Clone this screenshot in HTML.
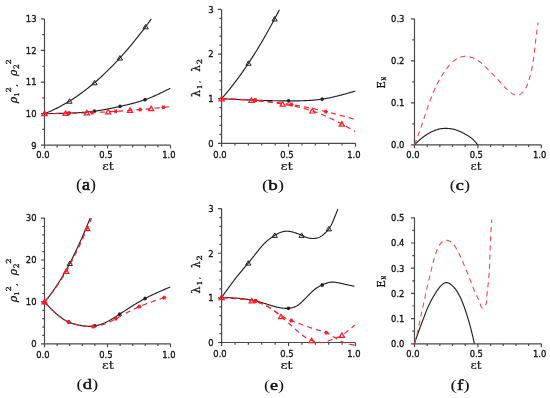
<!DOCTYPE html>
<html><head><meta charset="utf-8"><style>
html,body{margin:0;padding:0;background:#fff;}
svg{display:block;}
text{fill:#111;}
</style></head><body>
<svg width="550" height="398" viewBox="0 0 550 398">
<rect width="550" height="398" fill="#fff"/>
<path stroke="#4a4a4a" stroke-width="1.2" fill="none" d="M44.5,18.9L44.5,145.2L170.5,145.2"/>
<path stroke="#4a4a4a" stroke-width="1.2" fill="none" d="M40.9,145.2H44.5M42.3,129.41H44.5M40.9,113.62H44.5M42.3,97.84H44.5M40.9,82.05H44.5M42.3,66.26H44.5M40.9,50.47H44.5M42.3,34.69H44.5M40.9,18.9H44.5M44.5,145.2V148.6M57.1,145.2V147.4M69.7,145.2V147.4M82.3,145.2V147.4M94.9,145.2V147.4M107.5,145.2V148.6M120.1,145.2V147.4M132.7,145.2V147.4M145.3,145.2V147.4M157.9,145.2V147.4M170.5,145.2V148.6"/>
<path stroke="#222" stroke-width="1.15" fill="none" d="M44.5,113.62 L46.28,112.93 L48.06,112.2 L49.84,111.45 L51.62,110.66 L53.4,109.85 L55.18,109 L56.97,108.13 L58.75,107.22 L60.53,106.29 L62.31,105.32 L64.09,104.33 L65.87,103.3 L67.65,102.25 L69.43,101.16 L71.21,100.05 L72.99,98.9 L74.77,97.73 L76.55,96.52 L78.34,95.29 L80.12,94.02 L81.9,92.73 L83.68,91.4 L85.46,90.05 L87.24,88.66 L89.02,87.25 L90.8,85.8 L92.58,84.33 L94.36,82.83 L96.14,81.29 L97.92,79.73 L99.7,78.13 L101.49,76.51 L103.27,74.85 L105.05,73.17 L106.83,71.46 L108.61,69.71 L110.39,67.94 L112.17,66.13 L113.95,64.3 L115.73,62.44 L117.51,60.54 L119.29,58.62 L121.07,56.66 L122.86,54.68 L124.64,52.67 L126.42,50.62 L128.2,48.55 L129.98,46.45 L131.76,44.31 L133.54,42.15 L135.32,39.96 L137.1,37.73 L138.88,35.48 L140.66,33.2 L142.44,30.88 L144.22,28.54 L146.01,26.17 L147.79,23.76 L149.57,21.33 L151.35,18.87"/>
<path d="M69.5,98.72L72.1,103.22L66.9,103.22Z" stroke="#222" stroke-width="1.0" fill="none"/>
<path d="M94.5,80.31L97.1,84.81L91.9,84.81Z" stroke="#222" stroke-width="1.0" fill="none"/>
<path d="M119.9,55.55L122.5,60.05L117.3,60.05Z" stroke="#222" stroke-width="1.0" fill="none"/>
<path d="M145.6,24.31L148.2,28.81L143,28.81Z" stroke="#222" stroke-width="1.0" fill="none"/>
<path stroke="#222" stroke-width="1.15" fill="none" d="M44.5,113.6 L45.17,113.59 L45.84,113.58 L46.51,113.57 L47.19,113.57 L47.86,113.56 L48.53,113.55 L49.2,113.54 L49.87,113.53 L50.54,113.52 L51.22,113.51 L51.89,113.5 L52.56,113.49 L53.23,113.48 L53.9,113.47 L54.57,113.46 L55.24,113.45 L55.92,113.44 L56.59,113.43 L57.26,113.41 L57.93,113.4 L58.6,113.39 L59.27,113.37 L59.95,113.36 L60.62,113.35 L61.29,113.33 L61.96,113.31 L62.63,113.3 L63.3,113.28 L63.98,113.26 L64.65,113.25 L65.32,113.23 L65.99,113.21 L66.66,113.19 L67.34,113.17 L68.01,113.14 L68.68,113.12 L69.35,113.1 L70.02,113.07 L70.7,113.05 L71.37,113.02 L72.04,113 L72.71,112.97 L73.38,112.94 L74.06,112.91 L74.73,112.88 L75.4,112.84 L76.07,112.81 L76.74,112.78 L77.41,112.74 L78.09,112.7 L78.76,112.66 L79.43,112.62 L80.1,112.58 L80.77,112.53 L81.44,112.49 L82.11,112.44 L82.78,112.39 L83.45,112.34 L84.12,112.29 L84.79,112.23 L85.46,112.18 L86.13,112.12 L86.8,112.06 L87.47,112 L88.14,111.93 L88.81,111.87 L89.47,111.8 L90.14,111.72 L90.81,111.65 L91.48,111.58 L92.14,111.5 L92.81,111.42 L93.47,111.33 L94.14,111.25 L94.8,111.16 L95.47,111.07 L96.13,110.97 L96.8,110.88 L97.46,110.78 L98.13,110.68 L98.79,110.58 L99.45,110.47 L100.11,110.36 L100.78,110.25 L101.44,110.14 L102.1,110.03 L102.76,109.91 L103.42,109.8 L104.08,109.68 L104.74,109.56 L105.4,109.43 L106.06,109.31 L106.72,109.18 L107.38,109.06 L108.04,108.93 L108.7,108.8 L109.36,108.67 L110.02,108.53 L110.68,108.4 L111.34,108.26 L112,108.13 L112.65,107.99 L113.31,107.85 L113.97,107.71 L114.63,107.57 L115.29,107.43 L115.94,107.29 L116.6,107.15 L117.26,107 L117.92,106.86 L118.58,106.71 L119.23,106.57 L119.89,106.42 L120.55,106.28 L121.21,106.13 L121.86,105.99 L122.52,105.84 L123.18,105.69 L123.84,105.54 L124.49,105.39 L125.15,105.24 L125.81,105.09 L126.46,104.94 L127.12,104.79 L127.77,104.63 L128.43,104.47 L129.08,104.32 L129.74,104.16 L130.39,104 L131.04,103.83 L131.7,103.67 L132.35,103.5 L133,103.33 L133.65,103.16 L134.3,102.99 L134.95,102.81 L135.6,102.64 L136.24,102.46 L136.89,102.27 L137.53,102.09 L138.18,101.9 L138.82,101.71 L139.46,101.52 L140.11,101.32 L140.75,101.12 L141.38,100.92 L142.02,100.71 L142.66,100.5 L143.29,100.29 L143.93,100.07 L144.56,99.85 L145.19,99.63 L145.82,99.4 L146.45,99.17 L147.08,98.94 L147.71,98.7 L148.33,98.46 L148.96,98.21 L149.58,97.97 L150.2,97.72 L150.82,97.46 L151.44,97.21 L152.06,96.95 L152.68,96.68 L153.29,96.42 L153.91,96.15 L154.52,95.88 L155.14,95.61 L155.75,95.33 L156.36,95.06 L156.97,94.78 L157.58,94.5 L158.19,94.22 L158.8,93.93 L159.41,93.64 L160.02,93.36 L160.63,93.07 L161.24,92.78 L161.84,92.48 L162.45,92.19 L163.05,91.9 L163.66,91.6 L164.26,91.3 L164.87,91.01 L165.47,90.71 L166.08,90.41 L166.68,90.11 L167.28,89.81 L167.89,89.51 L168.49,89.21 L169.09,88.9 L169.7,88.6 L170.3,88.3"/>
<path d="M67.5,113.1L71.1,113.1M68.4,111.54L70.2,114.66M70.2,111.54L68.4,114.66" stroke="#222" stroke-width="1.4" fill="none"/>
<path d="M92.7,111.2L96.3,111.2M93.6,109.64L95.4,112.76M95.4,109.64L93.6,112.76" stroke="#222" stroke-width="1.4" fill="none"/>
<path d="M118.2,106.4L121.8,106.4M119.1,104.84L120.9,107.96M120.9,104.84L119.1,107.96" stroke="#222" stroke-width="1.4" fill="none"/>
<path d="M143.2,99.7L146.8,99.7M144.1,98.14L145.9,101.26M145.9,98.14L144.1,101.26" stroke="#222" stroke-width="1.4" fill="none"/>
<path stroke="#ff1a26" stroke-width="1.15" fill="none" stroke-dasharray="5.2 4" d="M44.5,113.6 L47.65,113.6 L50.8,113.58 L53.95,113.56 L57.1,113.53 L60.25,113.49 L63.4,113.44 L66.55,113.39 L69.7,113.32 L72.85,113.25 L76,113.16 L79.15,113.07 L82.3,112.97 L85.45,112.86 L88.6,112.74 L91.75,112.62 L94.9,112.48 L98.05,112.34 L101.2,112.18 L104.35,112.02 L107.5,111.85 L110.65,111.67 L113.8,111.48 L116.95,111.29 L120.1,111.08 L123.25,110.87 L126.4,110.64 L129.55,110.41 L132.7,110.17 L135.85,109.92 L139,109.66 L142.15,109.4 L145.3,109.12 L148.45,108.84 L151.6,108.54 L154.75,108.24 L157.9,107.93 L161.05,107.61 L164.2,107.28 L167.35,106.95 L170.5,106.6"/>
<path d="M44.5,111.1L47.1,115.6L41.9,115.6Z" stroke="#ff1a26" stroke-width="1.2" fill="none"/>
<path d="M65.6,110.9L68.2,115.4L63,115.4Z" stroke="#ff1a26" stroke-width="1.2" fill="none"/>
<path d="M86.9,110.31L89.5,114.81L84.3,114.81Z" stroke="#ff1a26" stroke-width="1.2" fill="none"/>
<path d="M108.1,109.32L110.7,113.82L105.5,113.82Z" stroke="#ff1a26" stroke-width="1.2" fill="none"/>
<path d="M130,107.88L132.6,112.38L127.4,112.38Z" stroke="#ff1a26" stroke-width="1.2" fill="none"/>
<path d="M151.1,106.09L153.7,110.59L148.5,110.59Z" stroke="#ff1a26" stroke-width="1.2" fill="none"/>
<path d="M66.5,113.34L70.7,113.34M67.55,111.52L69.65,115.16M69.65,111.52L67.55,115.16" stroke="#ff1a26" stroke-width="1.25" fill="none"/>
<path d="M90.1,112.6L94.3,112.6M91.15,110.78L93.25,114.41M93.25,110.78L91.15,114.41" stroke="#ff1a26" stroke-width="1.25" fill="none"/>
<path d="M113.6,111.36L117.8,111.36M114.65,109.55L116.75,113.18M116.75,109.55L114.65,113.18" stroke="#ff1a26" stroke-width="1.25" fill="none"/>
<path d="M138.1,109.56L142.3,109.56M139.15,107.74L141.25,111.38M141.25,107.74L139.15,111.38" stroke="#ff1a26" stroke-width="1.25" fill="none"/>
<path d="M161.3,107.37L165.5,107.37M162.35,105.55L164.45,109.18M164.45,105.55L162.35,109.18" stroke="#ff1a26" stroke-width="1.25" fill="none"/>
<path stroke="#4a4a4a" stroke-width="1.2" fill="none" d="M221.6,9.4L221.6,143.3L355.5,143.3"/>
<path stroke="#4a4a4a" stroke-width="1.2" fill="none" d="M218,143.3H221.6M219.4,134.37H221.6M219.4,125.45H221.6M219.4,116.52H221.6M219.4,107.59H221.6M218,98.67H221.6M219.4,89.74H221.6M219.4,80.81H221.6M219.4,71.89H221.6M219.4,62.96H221.6M218,54.03H221.6M219.4,45.11H221.6M219.4,36.18H221.6M219.4,27.25H221.6M219.4,18.33H221.6M218,9.4H221.6M221.6,143.3V146.7M234.99,143.3V145.5M248.38,143.3V145.5M261.77,143.3V145.5M275.16,143.3V145.5M288.55,143.3V146.7M301.94,143.3V145.5M315.33,143.3V145.5M328.72,143.3V145.5M342.11,143.3V145.5M355.5,143.3V146.7"/>
<path stroke="#222" stroke-width="1.15" fill="none" d="M221.6,98.67 L222.56,97.58 L223.53,96.47 L224.49,95.35 L225.46,94.22 L226.42,93.08 L227.38,91.92 L228.35,90.75 L229.31,89.56 L230.28,88.37 L231.24,87.16 L232.2,85.93 L233.17,84.69 L234.13,83.44 L235.1,82.18 L236.06,80.9 L237.03,79.61 L237.99,78.31 L238.95,76.99 L239.92,75.66 L240.88,74.31 L241.85,72.96 L242.81,71.59 L243.77,70.2 L244.74,68.8 L245.7,67.39 L246.67,65.97 L247.63,64.53 L248.59,63.08 L249.56,61.62 L250.52,60.14 L251.49,58.65 L252.45,57.15 L253.41,55.63 L254.38,54.1 L255.34,52.56 L256.31,51 L257.27,49.43 L258.24,47.85 L259.2,46.25 L260.16,44.64 L261.13,43.02 L262.09,41.38 L263.06,39.73 L264.02,38.07 L264.98,36.39 L265.95,34.7 L266.91,33 L267.88,31.28 L268.84,29.55 L269.8,27.81 L270.77,26.05 L271.73,24.28 L272.7,22.5 L273.66,20.7 L274.62,18.89 L275.59,17.07 L276.55,15.23 L277.52,13.38 L278.48,11.52 L279.44,9.64"/>
<path d="M248.5,60.82L251.1,65.32L245.9,65.32Z" stroke="#222" stroke-width="1.0" fill="none"/>
<path d="M274.6,16.54L277.2,21.04L272,21.04Z" stroke="#222" stroke-width="1.0" fill="none"/>
<path stroke="#222" stroke-width="1.15" fill="none" d="M221.6,98.7 L222.27,98.73 L222.94,98.77 L223.61,98.8 L224.28,98.83 L224.95,98.86 L225.62,98.9 L226.29,98.93 L226.96,98.96 L227.63,98.99 L228.3,99.03 L228.97,99.06 L229.64,99.09 L230.31,99.12 L230.98,99.16 L231.65,99.19 L232.32,99.22 L232.99,99.25 L233.66,99.28 L234.33,99.31 L235,99.35 L235.67,99.38 L236.34,99.41 L237.01,99.44 L237.67,99.47 L238.34,99.5 L239.01,99.53 L239.68,99.56 L240.35,99.59 L241.02,99.62 L241.69,99.65 L242.36,99.68 L243.03,99.71 L243.7,99.74 L244.37,99.77 L245.04,99.8 L245.71,99.83 L246.38,99.85 L247.05,99.88 L247.72,99.91 L248.39,99.94 L249.06,99.96 L249.73,99.99 L250.4,100.02 L251.07,100.04 L251.74,100.07 L252.41,100.1 L253.08,100.12 L253.75,100.15 L254.42,100.17 L255.08,100.2 L255.75,100.22 L256.42,100.24 L257.09,100.27 L257.76,100.29 L258.43,100.31 L259.1,100.34 L259.77,100.36 L260.44,100.38 L261.11,100.4 L261.78,100.42 L262.45,100.44 L263.12,100.46 L263.79,100.48 L264.46,100.5 L265.13,100.52 L265.8,100.54 L266.47,100.56 L267.14,100.57 L267.8,100.59 L268.47,100.61 L269.14,100.62 L269.81,100.64 L270.48,100.66 L271.15,100.67 L271.82,100.69 L272.49,100.7 L273.16,100.71 L273.83,100.73 L274.5,100.74 L275.17,100.75 L275.84,100.76 L276.51,100.78 L277.18,100.79 L277.86,100.8 L278.53,100.81 L279.2,100.82 L279.87,100.83 L280.54,100.84 L281.21,100.84 L281.88,100.85 L282.55,100.86 L283.22,100.86 L283.89,100.87 L284.56,100.88 L285.24,100.88 L285.91,100.89 L286.58,100.89 L287.25,100.89 L287.92,100.9 L288.6,100.9 L289.27,100.9 L289.94,100.9 L290.61,100.9 L291.28,100.9 L291.96,100.9 L292.63,100.9 L293.3,100.9 L293.97,100.9 L294.65,100.89 L295.32,100.89 L295.99,100.88 L296.66,100.87 L297.34,100.86 L298.01,100.85 L298.68,100.84 L299.35,100.83 L300.03,100.81 L300.7,100.8 L301.37,100.78 L302.04,100.76 L302.71,100.74 L303.39,100.72 L304.06,100.69 L304.73,100.66 L305.4,100.64 L306.07,100.61 L306.74,100.57 L307.41,100.54 L308.08,100.5 L308.75,100.46 L309.42,100.42 L310.09,100.38 L310.76,100.33 L311.43,100.28 L312.09,100.23 L312.76,100.18 L313.43,100.12 L314.1,100.06 L314.76,100 L315.43,99.93 L316.1,99.87 L316.76,99.8 L317.43,99.72 L318.09,99.65 L318.75,99.57 L319.42,99.48 L320.08,99.4 L320.74,99.31 L321.41,99.22 L322.07,99.12 L322.73,99.02 L323.39,98.92 L324.05,98.81 L324.71,98.7 L325.37,98.59 L326.02,98.47 L326.68,98.35 L327.34,98.23 L328,98.11 L328.65,97.98 L329.31,97.85 L329.96,97.71 L330.62,97.58 L331.27,97.44 L331.93,97.3 L332.58,97.15 L333.23,97.01 L333.89,96.86 L334.54,96.71 L335.19,96.56 L335.84,96.4 L336.5,96.24 L337.15,96.08 L337.8,95.92 L338.45,95.76 L339.1,95.6 L339.75,95.43 L340.4,95.26 L341.05,95.09 L341.7,94.92 L342.35,94.75 L343,94.57 L343.65,94.4 L344.29,94.22 L344.94,94.04 L345.59,93.87 L346.24,93.69 L346.89,93.51 L347.53,93.32 L348.18,93.14 L348.83,92.96 L349.48,92.77 L350.12,92.59 L350.77,92.4 L351.42,92.22 L352.07,92.03 L352.71,91.85 L353.36,91.66 L354.01,91.47 L354.65,91.29 L355.3,91.1"/>
<path d="M253.4,100.2L257,100.2M254.3,98.64L256.1,101.76M256.1,98.64L254.3,101.76" stroke="#222" stroke-width="1.4" fill="none"/>
<path d="M286.8,100.9L290.4,100.9M287.7,99.34L289.5,102.46M289.5,99.34L287.7,102.46" stroke="#222" stroke-width="1.4" fill="none"/>
<path d="M320.4,99.1L324,99.1M321.3,97.54L323.1,100.66M323.1,97.54L321.3,100.66" stroke="#222" stroke-width="1.4" fill="none"/>
<path stroke="#ff1a26" stroke-width="1.15" fill="none" stroke-dasharray="5.2 4" d="M221.6,98.7 L222.27,98.72 L222.94,98.75 L223.61,98.77 L224.29,98.79 L224.96,98.82 L225.63,98.84 L226.3,98.87 L226.97,98.89 L227.64,98.91 L228.32,98.94 L228.99,98.96 L229.66,98.99 L230.33,99.01 L231,99.04 L231.67,99.06 L232.34,99.09 L233.02,99.11 L233.69,99.14 L234.36,99.17 L235.03,99.2 L235.7,99.22 L236.37,99.25 L237.04,99.28 L237.72,99.31 L238.39,99.34 L239.06,99.37 L239.73,99.4 L240.4,99.43 L241.07,99.46 L241.74,99.49 L242.41,99.53 L243.08,99.56 L243.76,99.59 L244.43,99.63 L245.1,99.66 L245.77,99.7 L246.44,99.74 L247.11,99.77 L247.78,99.81 L248.45,99.85 L249.12,99.89 L249.79,99.93 L250.46,99.97 L251.13,100.02 L251.8,100.06 L252.48,100.1 L253.15,100.15 L253.82,100.19 L254.49,100.24 L255.16,100.29 L255.83,100.34 L256.5,100.39 L257.17,100.44 L257.84,100.49 L258.51,100.54 L259.18,100.6 L259.85,100.65 L260.52,100.71 L261.19,100.77 L261.86,100.83 L262.52,100.88 L263.19,100.95 L263.86,101.01 L264.53,101.07 L265.2,101.13 L265.87,101.2 L266.54,101.26 L267.21,101.33 L267.88,101.4 L268.55,101.47 L269.21,101.54 L269.88,101.61 L270.55,101.68 L271.22,101.75 L271.89,101.83 L272.56,101.9 L273.22,101.98 L273.89,102.06 L274.56,102.13 L275.23,102.21 L275.89,102.29 L276.56,102.38 L277.23,102.46 L277.89,102.54 L278.56,102.63 L279.23,102.72 L279.89,102.8 L280.56,102.89 L281.23,102.98 L281.89,103.07 L282.56,103.16 L283.22,103.26 L283.89,103.35 L284.55,103.45 L285.22,103.54 L285.88,103.64 L286.55,103.74 L287.21,103.84 L287.88,103.94 L288.54,104.05 L289.21,104.15 L289.87,104.25 L290.53,104.36 L291.2,104.47 L291.86,104.58 L292.52,104.69 L293.19,104.8 L293.85,104.91 L294.51,105.02 L295.17,105.14 L295.84,105.25 L296.5,105.37 L297.16,105.48 L297.82,105.6 L298.48,105.72 L299.14,105.84 L299.8,105.97 L300.46,106.09 L301.12,106.21 L301.78,106.34 L302.44,106.47 L303.1,106.59 L303.76,106.72 L304.42,106.85 L305.08,106.98 L305.74,107.11 L306.4,107.25 L307.06,107.38 L307.72,107.52 L308.38,107.65 L309.03,107.79 L309.69,107.93 L310.35,108.06 L311.01,108.2 L311.66,108.35 L312.32,108.49 L312.98,108.63 L313.63,108.77 L314.29,108.92 L314.95,109.06 L315.6,109.21 L316.26,109.36 L316.91,109.5 L317.57,109.65 L318.23,109.8 L318.88,109.95 L319.53,110.1 L320.19,110.26 L320.84,110.41 L321.5,110.56 L322.15,110.72 L322.81,110.88 L323.46,111.03 L324.11,111.19 L324.77,111.35 L325.42,111.51 L326.07,111.67 L326.72,111.83 L327.38,111.99 L328.03,112.15 L328.68,112.31 L329.33,112.48 L329.98,112.64 L330.63,112.81 L331.29,112.97 L331.94,113.14 L332.59,113.3 L333.24,113.47 L333.89,113.64 L334.54,113.81 L335.19,113.98 L335.84,114.15 L336.49,114.32 L337.14,114.49 L337.79,114.66 L338.44,114.83 L339.09,115 L339.74,115.18 L340.39,115.35 L341.04,115.52 L341.69,115.7 L342.33,115.87 L342.98,116.04 L343.63,116.22 L344.28,116.39 L344.93,116.57 L345.58,116.74 L346.23,116.92 L346.87,117.1 L347.52,117.27 L348.17,117.45 L348.82,117.63 L349.47,117.8 L350.12,117.98 L350.76,118.16 L351.41,118.33 L352.06,118.51 L352.71,118.69 L353.36,118.87 L354,119.04 L354.65,119.22 L355.3,119.4"/>
<path stroke="#ff1a26" stroke-width="1.15" fill="none" stroke-dasharray="5.2 4" d="M221.6,98.7 L222.27,98.73 L222.94,98.75 L223.61,98.78 L224.28,98.81 L224.95,98.84 L225.62,98.86 L226.29,98.89 L226.96,98.92 L227.63,98.95 L228.3,98.98 L228.97,99 L229.64,99.03 L230.31,99.06 L230.98,99.09 L231.65,99.12 L232.32,99.15 L232.99,99.18 L233.66,99.22 L234.33,99.25 L235,99.28 L235.67,99.31 L236.34,99.35 L237.01,99.38 L237.68,99.41 L238.35,99.45 L239.02,99.48 L239.69,99.52 L240.36,99.56 L241.03,99.6 L241.7,99.64 L242.37,99.67 L243.04,99.71 L243.71,99.76 L244.38,99.8 L245.04,99.84 L245.71,99.89 L246.38,99.93 L247.05,99.98 L247.72,100.02 L248.39,100.07 L249.06,100.12 L249.72,100.17 L250.39,100.22 L251.06,100.27 L251.73,100.33 L252.4,100.38 L253.06,100.44 L253.73,100.49 L254.4,100.55 L255.07,100.61 L255.73,100.67 L256.4,100.73 L257.07,100.8 L257.74,100.86 L258.4,100.93 L259.07,100.99 L259.74,101.06 L260.4,101.13 L261.07,101.2 L261.74,101.27 L262.4,101.34 L263.07,101.41 L263.74,101.49 L264.4,101.56 L265.07,101.64 L265.73,101.72 L266.4,101.8 L267.06,101.88 L267.73,101.96 L268.4,102.04 L269.06,102.13 L269.73,102.21 L270.39,102.3 L271.06,102.39 L271.72,102.47 L272.39,102.56 L273.05,102.65 L273.72,102.75 L274.38,102.84 L275.04,102.93 L275.71,103.03 L276.37,103.12 L277.04,103.22 L277.7,103.32 L278.37,103.42 L279.03,103.52 L279.69,103.62 L280.36,103.73 L281.02,103.83 L281.68,103.94 L282.35,104.04 L283.01,104.15 L283.67,104.26 L284.34,104.37 L285,104.48 L285.66,104.59 L286.32,104.71 L286.99,104.82 L287.65,104.94 L288.31,105.06 L288.97,105.18 L289.63,105.3 L290.29,105.42 L290.95,105.55 L291.61,105.67 L292.27,105.8 L292.93,105.93 L293.59,106.06 L294.25,106.2 L294.91,106.33 L295.57,106.47 L296.22,106.61 L296.88,106.75 L297.53,106.9 L298.19,107.05 L298.84,107.19 L299.5,107.35 L300.15,107.5 L300.8,107.66 L301.46,107.81 L302.11,107.97 L302.76,108.14 L303.41,108.3 L304.06,108.47 L304.7,108.65 L305.35,108.82 L306,109 L306.64,109.18 L307.29,109.36 L307.93,109.55 L308.57,109.74 L309.22,109.93 L309.86,110.12 L310.5,110.32 L311.14,110.52 L311.77,110.73 L312.41,110.94 L313.05,111.15 L313.68,111.36 L314.31,111.58 L314.95,111.8 L315.58,112.03 L316.21,112.25 L316.84,112.48 L317.46,112.72 L318.09,112.95 L318.72,113.19 L319.34,113.44 L319.97,113.68 L320.59,113.93 L321.21,114.18 L321.83,114.43 L322.45,114.69 L323.07,114.95 L323.69,115.21 L324.31,115.47 L324.92,115.74 L325.54,116.01 L326.15,116.28 L326.77,116.55 L327.38,116.83 L327.99,117.11 L328.6,117.39 L329.21,117.67 L329.82,117.95 L330.43,118.24 L331.04,118.53 L331.64,118.82 L332.25,119.11 L332.85,119.41 L333.46,119.7 L334.06,120 L334.66,120.3 L335.26,120.6 L335.86,120.9 L336.46,121.21 L337.06,121.51 L337.66,121.82 L338.25,122.13 L338.85,122.44 L339.45,122.75 L340.04,123.06 L340.63,123.38 L341.23,123.69 L341.82,124.01 L342.41,124.33 L343,124.65 L343.59,124.97 L344.18,125.29 L344.77,125.61 L345.36,125.93 L345.95,126.25 L346.53,126.58 L347.12,126.9 L347.71,127.23 L348.29,127.55 L348.88,127.88 L349.46,128.21 L350.05,128.54 L350.63,128.86 L351.22,129.19 L351.8,129.52 L352.38,129.85 L352.97,130.18 L353.55,130.51 L354.13,130.84 L354.72,131.17 L355.3,131.5"/>
<path d="M221.6,96.3L224.2,100.8L219,100.8Z" stroke="#ff1a26" stroke-width="1.2" fill="none"/>
<path d="M251.4,97.9L254,102.4L248.8,102.4Z" stroke="#ff1a26" stroke-width="1.2" fill="none"/>
<path d="M282.7,101.7L285.3,106.2L280.1,106.2Z" stroke="#ff1a26" stroke-width="1.2" fill="none"/>
<path d="M312.3,108.5L314.9,113L309.7,113Z" stroke="#ff1a26" stroke-width="1.2" fill="none"/>
<path d="M341.8,121.6L344.4,126.1L339.2,126.1Z" stroke="#ff1a26" stroke-width="1.2" fill="none"/>
<path d="M253.2,100.3L257.4,100.3M254.25,98.48L256.35,102.12M256.35,98.48L254.25,102.12" stroke="#ff1a26" stroke-width="1.25" fill="none"/>
<path d="M289.3,104.5L293.5,104.5M290.35,102.68L292.45,106.32M292.45,102.68L290.35,106.32" stroke="#ff1a26" stroke-width="1.25" fill="none"/>
<path d="M323.7,111.6L327.9,111.6M324.75,109.78L326.85,113.42M326.85,109.78L324.75,113.42" stroke="#ff1a26" stroke-width="1.25" fill="none"/>
<path stroke="#4a4a4a" stroke-width="1.2" fill="none" d="M414.5,18.8L414.5,144.8L541.3,144.8"/>
<path stroke="#4a4a4a" stroke-width="1.2" fill="none" d="M410.9,144.8H414.5M412.3,123.8H414.5M410.9,102.8H414.5M412.3,81.8H414.5M410.9,60.8H414.5M412.3,39.8H414.5M410.9,18.8H414.5M414.5,144.8V148.2M427.18,144.8V147M439.86,144.8V147M452.54,144.8V147M465.22,144.8V147M477.9,144.8V148.2M490.58,144.8V147M503.26,144.8V147M515.94,144.8V147M528.62,144.8V147M541.3,144.8V148.2"/>
<path stroke="#222" stroke-width="1.15" fill="none" d="M414.5,144.8 L414.99,144.33 L415.47,143.85 L415.96,143.38 L416.45,142.91 L416.94,142.44 L417.43,141.98 L417.93,141.51 L418.43,141.05 L418.93,140.59 L419.43,140.14 L419.94,139.69 L420.45,139.25 L420.96,138.81 L421.48,138.38 L422.01,137.95 L422.54,137.53 L423.08,137.12 L423.62,136.71 L424.17,136.31 L424.72,135.92 L425.28,135.54 L425.85,135.16 L426.41,134.79 L426.99,134.42 L427.57,134.07 L428.15,133.72 L428.74,133.38 L429.33,133.04 L429.92,132.72 L430.52,132.4 L431.13,132.09 L431.74,131.78 L432.35,131.49 L432.96,131.2 L433.58,130.92 L434.21,130.66 L434.84,130.4 L435.47,130.16 L436.11,129.94 L436.75,129.73 L437.4,129.53 L438.06,129.35 L438.71,129.18 L439.38,129.03 L440.04,128.9 L440.71,128.78 L441.38,128.68 L442.06,128.59 L442.73,128.52 L443.41,128.46 L444.09,128.42 L444.77,128.39 L445.46,128.38 L446.14,128.38 L446.82,128.39 L447.5,128.42 L448.18,128.46 L448.86,128.52 L449.54,128.58 L450.22,128.67 L450.89,128.76 L451.56,128.87 L452.23,128.99 L452.9,129.12 L453.56,129.27 L454.22,129.43 L454.88,129.61 L455.53,129.79 L456.18,129.99 L456.82,130.21 L457.45,130.43 L458.09,130.67 L458.72,130.92 L459.34,131.18 L459.96,131.45 L460.58,131.73 L461.19,132.02 L461.8,132.32 L462.41,132.62 L463.01,132.93 L463.61,133.25 L464.21,133.58 L464.8,133.91 L465.4,134.25 L465.99,134.59 L466.58,134.93 L467.17,135.28 L467.75,135.63 L468.34,135.98 L468.91,136.35 L469.48,136.72 L470.05,137.1 L470.6,137.49 L471.14,137.89 L471.67,138.3 L472.19,138.73 L472.7,139.18 L473.19,139.64 L473.67,140.11 L474.13,140.6 L474.59,141.1 L475.04,141.61 L475.48,142.13 L475.91,142.66 L476.34,143.19 L476.76,143.72 L477.18,144.26 L477.6,144.8"/>
<path stroke="#ff3a48" stroke-width="1.05" fill="none" stroke-dasharray="5.2 4" d="M414.5,144.8 L414.74,144.18 L414.99,143.55 L415.23,142.93 L415.48,142.31 L415.72,141.69 L415.96,141.06 L416.21,140.44 L416.45,139.81 L416.69,139.19 L416.93,138.56 L417.16,137.94 L417.4,137.31 L417.63,136.69 L417.87,136.06 L418.1,135.43 L418.33,134.8 L418.55,134.17 L418.78,133.54 L419,132.91 L419.23,132.28 L419.45,131.65 L419.67,131.02 L419.89,130.39 L420.11,129.76 L420.33,129.12 L420.55,128.49 L420.76,127.86 L420.98,127.23 L421.2,126.59 L421.42,125.96 L421.63,125.33 L421.85,124.7 L422.07,124.06 L422.29,123.43 L422.51,122.8 L422.72,122.16 L422.94,121.53 L423.16,120.9 L423.37,120.27 L423.59,119.63 L423.8,119 L424.01,118.36 L424.23,117.73 L424.44,117.09 L424.65,116.46 L424.86,115.82 L425.06,115.19 L425.27,114.55 L425.48,113.92 L425.68,113.28 L425.89,112.64 L426.1,112.01 L426.3,111.37 L426.51,110.73 L426.72,110.1 L426.93,109.46 L427.14,108.83 L427.35,108.19 L427.57,107.56 L427.78,106.93 L428,106.29 L428.22,105.66 L428.45,105.03 L428.68,104.4 L428.91,103.78 L429.14,103.15 L429.37,102.52 L429.61,101.89 L429.84,101.27 L430.08,100.64 L430.32,100.02 L430.56,99.4 L430.81,98.77 L431.05,98.15 L431.3,97.53 L431.54,96.9 L431.79,96.28 L432.03,95.66 L432.28,95.04 L432.53,94.42 L432.78,93.8 L433.03,93.18 L433.28,92.56 L433.54,91.94 L433.8,91.32 L434.06,90.7 L434.32,90.09 L434.58,89.47 L434.85,88.86 L435.12,88.25 L435.4,87.64 L435.68,87.03 L435.96,86.42 L436.25,85.82 L436.54,85.22 L436.83,84.61 L437.13,84.01 L437.43,83.42 L437.74,82.82 L438.05,82.23 L438.36,81.64 L438.68,81.05 L439,80.46 L439.33,79.88 L439.66,79.3 L439.99,78.72 L440.33,78.14 L440.68,77.57 L441.03,77 L441.38,76.43 L441.73,75.86 L442.09,75.3 L442.45,74.73 L442.82,74.17 L443.19,73.61 L443.56,73.06 L443.94,72.5 L444.31,71.95 L444.69,71.4 L445.08,70.85 L445.46,70.3 L445.85,69.76 L446.24,69.21 L446.64,68.67 L447.04,68.14 L447.44,67.6 L447.85,67.08 L448.27,66.55 L448.69,66.03 L449.12,65.52 L449.56,65.01 L450.01,64.51 L450.46,64.02 L450.92,63.53 L451.39,63.05 L451.87,62.58 L452.36,62.12 L452.86,61.67 L453.37,61.23 L453.89,60.81 L454.42,60.4 L454.96,60 L455.51,59.62 L456.08,59.25 L456.65,58.9 L457.24,58.57 L457.84,58.25 L458.45,57.96 L459.07,57.69 L459.7,57.43 L460.34,57.21 L460.99,57 L461.64,56.82 L462.3,56.66 L462.96,56.53 L463.62,56.43 L464.29,56.36 L464.96,56.31 L465.63,56.3 L466.3,56.31 L466.96,56.36 L467.63,56.43 L468.29,56.53 L468.96,56.65 L469.61,56.8 L470.27,56.97 L470.92,57.16 L471.56,57.38 L472.2,57.61 L472.84,57.86 L473.46,58.12 L474.08,58.4 L474.69,58.69 L475.3,59 L475.89,59.32 L476.48,59.65 L477.06,59.99 L477.63,60.35 L478.19,60.71 L478.75,61.09 L479.29,61.47 L479.83,61.87 L480.37,62.27 L480.9,62.69 L481.41,63.11 L481.93,63.54 L482.43,63.97 L482.93,64.42 L483.43,64.87 L483.91,65.33 L484.39,65.79 L484.87,66.26 L485.35,66.73 L485.82,67.21 L486.28,67.69 L486.75,68.17 L487.22,68.65 L487.68,69.13 L488.15,69.61 L488.61,70.09 L489.08,70.57 L489.55,71.05 L490.02,71.52 L490.5,72 L490.97,72.47 L491.45,72.94 L491.93,73.4 L492.41,73.87 L492.89,74.34 L493.36,74.81 L493.84,75.28 L494.31,75.75 L494.79,76.22 L495.25,76.7 L495.72,77.18 L496.18,77.67 L496.64,78.15 L497.09,78.65 L497.53,79.14 L497.98,79.64 L498.42,80.15 L498.86,80.65 L499.3,81.16 L499.73,81.66 L500.17,82.17 L500.61,82.68 L501.05,83.18 L501.49,83.68 L501.94,84.18 L502.38,84.68 L502.84,85.18 L503.29,85.67 L503.75,86.15 L504.22,86.63 L504.69,87.11 L505.16,87.58 L505.64,88.05 L506.12,88.52 L506.61,88.98 L507.1,89.44 L507.59,89.89 L508.09,90.33 L508.59,90.78 L509.1,91.21 L509.61,91.65 L510.12,92.07 L510.65,92.48 L511.18,92.88 L511.73,93.27 L512.29,93.63 L512.87,93.97 L513.48,94.29 L514.1,94.57 L514.74,94.82 L515.4,95.02 L516.06,95.15 L516.73,95.22 L517.39,95.21 L518.04,95.11 L518.69,94.93 L519.31,94.68 L519.92,94.37 L520.5,94 L521.06,93.61 L521.6,93.18 L522.1,92.73 L522.58,92.26 L523.03,91.77 L523.47,91.26 L523.89,90.74 L524.29,90.21 L524.68,89.67 L525.06,89.11 L525.42,88.55 L525.77,87.97 L526.1,87.39 L526.42,86.8 L526.72,86.2 L527,85.59 L527.27,84.98 L527.52,84.36 L527.75,83.74 L527.98,83.1 L528.19,82.47 L528.39,81.83 L528.59,81.19 L528.77,80.55 L528.96,79.9 L529.14,79.26 L529.32,78.61 L529.5,77.96 L529.68,77.32 L529.85,76.67 L530.03,76.02 L530.2,75.37 L530.37,74.73 L530.53,74.08 L530.7,73.43 L530.86,72.78 L531.02,72.13 L531.18,71.48 L531.33,70.83 L531.48,70.18 L531.63,69.52 L531.78,68.87 L531.92,68.22 L532.06,67.56 L532.2,66.91 L532.33,66.26 L532.46,65.6 L532.58,64.94 L532.7,64.29 L532.82,63.63 L532.93,62.97 L533.04,62.31 L533.15,61.65 L533.25,60.99 L533.35,60.33 L533.45,59.66 L533.54,59 L533.63,58.34 L533.72,57.68 L533.81,57.01 L533.89,56.35 L533.98,55.68 L534.06,55.02 L534.14,54.35 L534.22,53.69 L534.29,53.02 L534.37,52.36 L534.44,51.69 L534.52,51.03 L534.59,50.36 L534.67,49.7 L534.74,49.03 L534.81,48.37 L534.88,47.7 L534.96,47.04 L535.03,46.37 L535.1,45.71 L535.17,45.04 L535.25,44.38 L535.32,43.71 L535.4,43.05 L535.47,42.38 L535.55,41.72 L535.62,41.05 L535.7,40.39 L535.78,39.72 L535.86,39.06 L535.94,38.4 L536.02,37.73 L536.1,37.07 L536.19,36.41 L536.28,35.74 L536.36,35.08 L536.45,34.42 L536.54,33.75 L536.63,33.09 L536.73,32.43 L536.82,31.77 L536.91,31.1 L537.01,30.44 L537.11,29.78 L537.2,29.12 L537.3,28.46 L537.4,27.79 L537.5,27.13 L537.6,26.47 L537.7,25.81 L537.8,25.15 L537.9,24.48 L538,23.82 L538.1,23.16 L538.2,22.5"/>
<path stroke="#4a4a4a" stroke-width="1.2" fill="none" d="M44.5,218.1L44.5,343.8L170.5,343.8"/>
<path stroke="#4a4a4a" stroke-width="1.2" fill="none" d="M40.9,343.8H44.5M42.3,335.42H44.5M42.3,327.04H44.5M42.3,318.66H44.5M42.3,310.28H44.5M40.9,301.9H44.5M42.3,293.52H44.5M42.3,285.14H44.5M42.3,276.76H44.5M42.3,268.38H44.5M40.9,260H44.5M42.3,251.62H44.5M42.3,243.24H44.5M42.3,234.86H44.5M42.3,226.48H44.5M40.9,218.1H44.5M44.5,343.8V347.2M57.1,343.8V346M69.7,343.8V346M82.3,343.8V346M94.9,343.8V346M107.5,343.8V347.2M120.1,343.8V346M132.7,343.8V346M145.3,343.8V346M157.9,343.8V346M170.5,343.8V347.2"/>
<path stroke="#222" stroke-width="1.15" fill="none" d="M44.5,301.9 L45.26,301.02 L46.02,300.12 L46.78,299.2 L47.55,298.27 L48.31,297.32 L49.07,296.35 L49.83,295.36 L50.59,294.36 L51.35,293.33 L52.11,292.29 L52.87,291.24 L53.63,290.16 L54.4,289.07 L55.16,287.96 L55.92,286.84 L56.68,285.69 L57.44,284.53 L58.2,283.36 L58.96,282.16 L59.73,280.95 L60.49,279.72 L61.25,278.47 L62.01,277.2 L62.77,275.92 L63.53,274.62 L64.29,273.3 L65.05,271.96 L65.81,270.61 L66.58,269.24 L67.34,267.85 L68.1,266.45 L68.86,265.03 L69.62,263.59 L70.38,262.13 L71.14,260.65 L71.91,259.16 L72.67,257.65 L73.43,256.12 L74.19,254.58 L74.95,253.02 L75.71,251.44 L76.47,249.84 L77.23,248.23 L78,246.59 L78.76,244.95 L79.52,243.28 L80.28,241.59 L81.04,239.89 L81.8,238.17 L82.56,236.44 L83.32,234.68 L84.09,232.91 L84.85,231.12 L85.61,229.32 L86.37,227.49 L87.13,225.65 L87.89,223.8 L88.65,221.92 L89.41,220.03 L90.17,218.12"/>
<path d="M69.8,261.04L72.4,265.54L67.2,265.54Z" stroke="#222" stroke-width="1.0" fill="none"/>
<path stroke="#ff1a26" stroke-width="1.15" fill="none" stroke-dasharray="5.2 4" d="M44.5,301.9 L45.28,301.03 L46.07,300.14 L46.85,299.24 L47.64,298.31 L48.42,297.37 L49.21,296.41 L49.99,295.44 L50.77,294.44 L51.56,293.43 L52.34,292.4 L53.13,291.35 L53.91,290.29 L54.7,289.2 L55.48,288.1 L56.27,286.98 L57.05,285.84 L57.83,284.69 L58.62,283.51 L59.4,282.32 L60.19,281.11 L60.97,279.89 L61.76,278.64 L62.54,277.38 L63.32,276.1 L64.11,274.8 L64.89,273.48 L65.68,272.15 L66.46,270.8 L67.25,269.43 L68.03,268.04 L68.81,266.64 L69.6,265.21 L70.38,263.77 L71.17,262.31 L71.95,260.84 L72.74,259.34 L73.52,257.83 L74.31,256.3 L75.09,254.75 L75.87,253.18 L76.66,251.6 L77.44,250 L78.23,248.38 L79.01,246.74 L79.8,245.08 L80.58,243.41 L81.36,241.72 L82.15,240.01 L82.93,238.28 L83.72,236.54 L84.5,234.78 L85.29,233 L86.07,231.2 L86.85,229.38 L87.64,227.55 L88.42,225.69 L89.21,223.82 L89.99,221.94 L90.78,220.03 L91.56,218.11"/>
<path d="M44.5,299.5L47.1,304L41.9,304Z" stroke="#ff1a26" stroke-width="1.2" fill="none"/>
<path d="M66.2,268.85L68.8,273.35L63.6,273.35Z" stroke="#ff1a26" stroke-width="1.2" fill="none"/>
<path d="M87.2,226.17L89.8,230.67L84.6,230.67Z" stroke="#ff1a26" stroke-width="1.2" fill="none"/>
<path stroke="#222" stroke-width="1.15" fill="none" d="M44.5,302.1 L44.96,302.58 L45.43,303.07 L45.89,303.55 L46.36,304.03 L46.82,304.52 L47.29,305 L47.76,305.48 L48.22,305.96 L48.69,306.44 L49.17,306.92 L49.64,307.4 L50.11,307.88 L50.59,308.35 L51.07,308.83 L51.55,309.3 L52.03,309.77 L52.51,310.24 L53,310.71 L53.49,311.17 L53.98,311.64 L54.48,312.1 L54.98,312.56 L55.48,313.01 L55.99,313.47 L56.5,313.92 L57.01,314.36 L57.53,314.81 L58.05,315.24 L58.58,315.68 L59.11,316.1 L59.64,316.53 L60.18,316.94 L60.72,317.35 L61.26,317.75 L61.82,318.15 L62.37,318.53 L62.93,318.91 L63.49,319.28 L64.06,319.64 L64.64,319.99 L65.22,320.33 L65.8,320.66 L66.39,320.98 L66.98,321.29 L67.58,321.59 L68.19,321.87 L68.8,322.14 L69.42,322.4 L70.04,322.65 L70.66,322.89 L71.3,323.11 L71.93,323.33 L72.57,323.53 L73.22,323.73 L73.86,323.91 L74.51,324.09 L75.17,324.26 L75.82,324.42 L76.48,324.58 L77.14,324.72 L77.81,324.87 L78.47,325 L79.14,325.14 L79.81,325.26 L80.47,325.39 L81.14,325.51 L81.81,325.62 L82.48,325.73 L83.15,325.83 L83.82,325.93 L84.49,326.02 L85.16,326.09 L85.84,326.17 L86.51,326.23 L87.18,326.28 L87.85,326.32 L88.52,326.34 L89.19,326.36 L89.86,326.36 L90.53,326.35 L91.2,326.32 L91.87,326.28 L92.54,326.22 L93.21,326.15 L93.87,326.07 L94.54,325.97 L95.2,325.85 L95.86,325.72 L96.52,325.58 L97.18,325.43 L97.84,325.27 L98.49,325.09 L99.14,324.9 L99.79,324.7 L100.44,324.49 L101.08,324.27 L101.72,324.04 L102.36,323.8 L102.99,323.55 L103.62,323.3 L104.24,323.03 L104.87,322.76 L105.48,322.48 L106.09,322.19 L106.7,321.9 L107.31,321.6 L107.91,321.3 L108.51,320.98 L109.1,320.67 L109.69,320.34 L110.28,320.02 L110.86,319.68 L111.45,319.35 L112.03,319.01 L112.6,318.66 L113.18,318.31 L113.75,317.96 L114.32,317.61 L114.89,317.25 L115.46,316.89 L116.03,316.53 L116.6,316.16 L117.16,315.8 L117.73,315.43 L118.29,315.06 L118.85,314.69 L119.42,314.32 L119.98,313.95 L120.54,313.58 L121.11,313.21 L121.67,312.84 L122.23,312.47 L122.8,312.1 L123.36,311.73 L123.92,311.36 L124.49,310.99 L125.05,310.62 L125.62,310.26 L126.18,309.89 L126.75,309.52 L127.31,309.15 L127.88,308.79 L128.44,308.42 L129.01,308.06 L129.58,307.7 L130.15,307.33 L130.71,306.97 L131.28,306.61 L131.85,306.25 L132.42,305.89 L132.99,305.54 L133.57,305.18 L134.14,304.83 L134.71,304.48 L135.29,304.12 L135.86,303.78 L136.44,303.43 L137.01,303.08 L137.59,302.74 L138.17,302.39 L138.75,302.05 L139.33,301.71 L139.91,301.38 L140.49,301.04 L141.08,300.71 L141.66,300.38 L142.25,300.05 L142.84,299.73 L143.43,299.4 L144.02,299.08 L144.61,298.76 L145.2,298.45 L145.79,298.13 L146.39,297.82 L146.99,297.51 L147.58,297.21 L148.18,296.9 L148.78,296.6 L149.39,296.3 L149.99,296.01 L150.59,295.71 L151.2,295.42 L151.8,295.13 L152.41,294.84 L153.02,294.55 L153.63,294.27 L154.24,293.98 L154.85,293.7 L155.46,293.42 L156.07,293.14 L156.68,292.86 L157.3,292.59 L157.91,292.31 L158.53,292.04 L159.14,291.77 L159.76,291.5 L160.38,291.23 L161,290.96 L161.61,290.69 L162.23,290.42 L162.85,290.16 L163.47,289.89 L164.09,289.62 L164.71,289.36 L165.33,289.1 L165.95,288.83 L166.57,288.57 L167.19,288.31 L167.81,288.05 L168.44,287.78 L169.06,287.52 L169.68,287.26 L170.3,287"/>
<path d="M66.9,322.1L70.5,322.1M67.8,320.54L69.6,323.66M69.6,320.54L67.8,323.66" stroke="#222" stroke-width="1.4" fill="none"/>
<path d="M93,325.92L96.6,325.92M93.9,324.36L95.7,327.48M95.7,324.36L93.9,327.48" stroke="#222" stroke-width="1.4" fill="none"/>
<path d="M117.8,314.2L121.4,314.2M118.7,312.64L120.5,315.76M120.5,312.64L118.7,315.76" stroke="#222" stroke-width="1.4" fill="none"/>
<path d="M143.3,298.5L146.9,298.5M144.2,296.94L146,300.06M146,296.94L144.2,300.06" stroke="#222" stroke-width="1.4" fill="none"/>
<path stroke="#ff1a26" stroke-width="1.15" fill="none" stroke-dasharray="5.2 4" d="M44.5,302.1 L44.96,302.58 L45.42,303.07 L45.89,303.55 L46.35,304.03 L46.82,304.51 L47.28,304.99 L47.75,305.48 L48.21,305.96 L48.68,306.43 L49.15,306.91 L49.62,307.39 L50.09,307.86 L50.57,308.34 L51.04,308.81 L51.52,309.28 L52,309.75 L52.49,310.22 L52.97,310.68 L53.46,311.15 L53.95,311.61 L54.45,312.07 L54.95,312.53 L55.45,312.98 L55.95,313.43 L56.46,313.88 L56.97,314.32 L57.49,314.76 L58.01,315.2 L58.53,315.63 L59.06,316.05 L59.59,316.47 L60.13,316.88 L60.67,317.29 L61.21,317.69 L61.76,318.08 L62.31,318.47 L62.87,318.85 L63.43,319.22 L64,319.58 L64.57,319.93 L65.15,320.27 L65.73,320.6 L66.31,320.92 L66.9,321.24 L67.5,321.54 L68.1,321.83 L68.71,322.1 L69.32,322.37 L69.94,322.62 L70.56,322.87 L71.19,323.1 L71.82,323.32 L72.46,323.53 L73.1,323.74 L73.74,323.93 L74.39,324.12 L75.04,324.29 L75.69,324.46 L76.34,324.62 L77,324.78 L77.66,324.92 L78.32,325.07 L78.98,325.2 L79.65,325.33 L80.31,325.46 L80.97,325.58 L81.64,325.69 L82.31,325.8 L82.97,325.91 L83.64,326.01 L84.31,326.1 L84.97,326.18 L85.64,326.26 L86.31,326.33 L86.98,326.39 L87.65,326.44 L88.32,326.48 L88.99,326.51 L89.66,326.54 L90.33,326.55 L91,326.55 L91.67,326.54 L92.34,326.52 L93.01,326.49 L93.68,326.45 L94.35,326.4 L95.02,326.33 L95.69,326.25 L96.35,326.16 L97.02,326.06 L97.68,325.95 L98.35,325.83 L99.01,325.69 L99.67,325.55 L100.32,325.39 L100.97,325.23 L101.62,325.05 L102.27,324.86 L102.91,324.66 L103.55,324.45 L104.19,324.23 L104.82,324.01 L105.44,323.77 L106.07,323.52 L106.69,323.26 L107.3,323 L107.92,322.73 L108.53,322.45 L109.13,322.17 L109.74,321.88 L110.34,321.58 L110.94,321.28 L111.54,320.98 L112.14,320.67 L112.73,320.35 L113.33,320.04 L113.92,319.72 L114.51,319.4 L115.1,319.08 L115.69,318.76 L116.29,318.44 L116.88,318.11 L117.47,317.79 L118.06,317.47 L118.65,317.14 L119.24,316.82 L119.83,316.5 L120.42,316.18 L121.01,315.85 L121.6,315.53 L122.19,315.21 L122.78,314.89 L123.37,314.57 L123.96,314.25 L124.55,313.93 L125.15,313.62 L125.74,313.3 L126.33,312.99 L126.93,312.67 L127.52,312.36 L128.11,312.05 L128.71,311.74 L129.3,311.43 L129.9,311.13 L130.5,310.82 L131.1,310.52 L131.7,310.22 L132.3,309.92 L132.9,309.62 L133.5,309.33 L134.1,309.04 L134.7,308.75 L135.31,308.46 L135.91,308.18 L136.52,307.89 L137.13,307.61 L137.74,307.34 L138.35,307.06 L138.96,306.79 L139.57,306.52 L140.19,306.26 L140.8,306 L141.42,305.74 L142.04,305.48 L142.66,305.23 L143.28,304.98 L143.9,304.73 L144.52,304.49 L145.15,304.24 L145.77,304 L146.4,303.76 L147.03,303.53 L147.65,303.29 L148.28,303.06 L148.91,302.83 L149.54,302.6 L150.18,302.38 L150.81,302.15 L151.44,301.93 L152.07,301.71 L152.71,301.49 L153.34,301.27 L153.98,301.05 L154.62,300.84 L155.25,300.62 L155.89,300.41 L156.53,300.2 L157.16,299.99 L157.8,299.78 L158.44,299.57 L159.08,299.36 L159.72,299.15 L160.36,298.94 L161,298.73 L161.64,298.53 L162.28,298.32 L162.92,298.11 L163.56,297.91 L164.2,297.7"/>
<path d="M42.4,302.1L46.6,302.1M43.45,300.28L45.55,303.92M45.55,300.28L43.45,303.92" stroke="#ff1a26" stroke-width="1.25" fill="none"/>
<path d="M66.6,322.1L70.8,322.1M67.65,320.28L69.75,323.92M69.75,320.28L67.65,323.92" stroke="#ff1a26" stroke-width="1.25" fill="none"/>
<path d="M90.8,326.5L95,326.5M91.85,324.68L93.95,328.32M93.95,324.68L91.85,328.32" stroke="#ff1a26" stroke-width="1.25" fill="none"/>
<path d="M113.7,318.7L117.9,318.7M114.75,316.88L116.85,320.52M116.85,316.88L114.75,320.52" stroke="#ff1a26" stroke-width="1.25" fill="none"/>
<path d="M137.3,306.6L141.5,306.6M138.35,304.78L140.45,308.42M140.45,304.78L138.35,308.42" stroke="#ff1a26" stroke-width="1.25" fill="none"/>
<path d="M162.1,297.7L166.3,297.7M163.15,295.88L165.25,299.52M165.25,295.88L163.15,299.52" stroke="#ff1a26" stroke-width="1.25" fill="none"/>
<path stroke="#4a4a4a" stroke-width="1.2" fill="none" d="M221.6,208.6L221.6,342.5L355.5,342.5"/>
<path stroke="#4a4a4a" stroke-width="1.2" fill="none" d="M218,342.5H221.6M219.4,333.57H221.6M219.4,324.65H221.6M219.4,315.72H221.6M219.4,306.79H221.6M218,297.87H221.6M219.4,288.94H221.6M219.4,280.01H221.6M219.4,271.09H221.6M219.4,262.16H221.6M218,253.23H221.6M219.4,244.31H221.6M219.4,235.38H221.6M219.4,226.45H221.6M219.4,217.53H221.6M218,208.6H221.6M221.6,342.5V345.9M234.99,342.5V344.7M248.38,342.5V344.7M261.77,342.5V344.7M275.16,342.5V344.7M288.55,342.5V345.9M301.94,342.5V344.7M315.33,342.5V344.7M328.72,342.5V344.7M342.11,342.5V344.7M355.5,342.5V345.9"/>
<path stroke="#222" stroke-width="1.15" fill="none" d="M221.6,297.5 L221.99,296.95 L222.37,296.41 L222.76,295.86 L223.15,295.32 L223.54,294.77 L223.92,294.22 L224.31,293.68 L224.7,293.13 L225.09,292.59 L225.48,292.04 L225.87,291.5 L226.26,290.95 L226.65,290.41 L227.04,289.86 L227.43,289.32 L227.82,288.78 L228.21,288.23 L228.61,287.69 L229,287.15 L229.39,286.61 L229.79,286.07 L230.18,285.53 L230.58,284.99 L230.98,284.45 L231.38,283.91 L231.78,283.37 L232.18,282.84 L232.58,282.3 L232.98,281.76 L233.38,281.23 L233.79,280.7 L234.2,280.16 L234.6,279.63 L235.01,279.1 L235.42,278.57 L235.83,278.04 L236.25,277.52 L236.66,276.99 L237.08,276.47 L237.49,275.94 L237.91,275.42 L238.33,274.9 L238.75,274.38 L239.18,273.86 L239.6,273.34 L240.03,272.83 L240.46,272.31 L240.89,271.8 L241.32,271.28 L241.75,270.77 L242.18,270.26 L242.62,269.75 L243.05,269.24 L243.48,268.73 L243.92,268.22 L244.35,267.71 L244.78,267.2 L245.22,266.69 L245.65,266.17 L246.08,265.66 L246.51,265.15 L246.94,264.64 L247.37,264.12 L247.8,263.61 L248.22,263.09 L248.65,262.58 L249.07,262.06 L249.49,261.54 L249.91,261.02 L250.33,260.5 L250.75,259.97 L251.17,259.45 L251.58,258.93 L252,258.4 L252.42,257.88 L252.83,257.35 L253.25,256.83 L253.66,256.3 L254.07,255.78 L254.49,255.25 L254.9,254.72 L255.32,254.2 L255.73,253.67 L256.15,253.15 L256.57,252.62 L256.98,252.1 L257.4,251.57 L257.82,251.05 L258.24,250.52 L258.67,250 L259.09,249.48 L259.52,248.96 L259.95,248.44 L260.38,247.93 L260.81,247.41 L261.25,246.9 L261.69,246.4 L262.13,245.89 L262.58,245.4 L263.03,244.9 L263.49,244.41 L263.95,243.92 L264.42,243.44 L264.89,242.97 L265.36,242.5 L265.85,242.04 L266.33,241.58 L266.83,241.13 L267.33,240.69 L267.84,240.25 L268.35,239.82 L268.87,239.4 L269.4,238.99 L269.93,238.58 L270.47,238.18 L271.01,237.79 L271.56,237.4 L272.11,237.02 L272.67,236.65 L273.23,236.28 L273.8,235.92 L274.37,235.56 L274.94,235.21 L275.52,234.87 L276.1,234.54 L276.69,234.21 L277.28,233.9 L277.88,233.59 L278.48,233.3 L279.09,233.02 L279.71,232.76 L280.33,232.51 L280.96,232.28 L281.6,232.07 L282.25,231.87 L282.9,231.7 L283.55,231.55 L284.21,231.43 L284.88,231.33 L285.55,231.25 L286.21,231.21 L286.88,231.19 L287.55,231.2 L288.22,231.24 L288.88,231.31 L289.55,231.39 L290.21,231.5 L290.87,231.63 L291.53,231.77 L292.19,231.93 L292.84,232.11 L293.49,232.29 L294.14,232.49 L294.79,232.69 L295.43,232.9 L296.06,233.12 L296.69,233.34 L297.32,233.57 L297.95,233.8 L298.57,234.04 L299.19,234.29 L299.81,234.54 L300.43,234.8 L301.05,235.06 L301.66,235.33 L302.28,235.6 L302.89,235.87 L303.5,236.14 L304.12,236.41 L304.74,236.68 L305.36,236.93 L305.98,237.17 L306.61,237.4 L307.24,237.62 L307.88,237.81 L308.53,237.98 L309.18,238.13 L309.84,238.26 L310.5,238.36 L311.17,238.44 L311.84,238.49 L312.52,238.51 L313.19,238.51 L313.87,238.49 L314.54,238.43 L315.21,238.35 L315.88,238.24 L316.55,238.1 L317.2,237.93 L317.85,237.74 L318.49,237.52 L319.12,237.27 L319.73,237 L320.33,236.69 L320.91,236.36 L321.47,236.01 L322.02,235.63 L322.56,235.23 L323.09,234.81 L323.6,234.37 L324.1,233.93 L324.6,233.47 L325.09,233.01 L325.57,232.54 L326.05,232.06 L326.52,231.58 L326.99,231.09 L327.44,230.6 L327.88,230.09 L328.3,229.58 L328.71,229.05 L329.11,228.52 L329.48,227.97 L329.84,227.4 L330.19,226.83 L330.53,226.25 L330.85,225.67 L331.16,225.07 L331.46,224.47 L331.76,223.86 L332.04,223.25 L332.32,222.64 L332.6,222.03 L332.87,221.41 L333.14,220.79 L333.41,220.18 L333.67,219.56 L333.93,218.94 L334.19,218.32 L334.45,217.7 L334.71,217.08 L334.96,216.46 L335.21,215.84 L335.46,215.22 L335.71,214.6 L335.96,213.98 L336.2,213.36 L336.45,212.73 L336.69,212.11 L336.93,211.49 L337.17,210.87 L337.42,210.25 L337.66,209.62 L337.9,209"/>
<path d="M248.3,260.6L250.9,265.1L245.7,265.1Z" stroke="#222" stroke-width="1.0" fill="none"/>
<path d="M274.8,232.9L277.4,237.4L272.2,237.4Z" stroke="#222" stroke-width="1.0" fill="none"/>
<path d="M301.6,232.9L304.2,237.4L299,237.4Z" stroke="#222" stroke-width="1.0" fill="none"/>
<path d="M328.9,226.4L331.5,230.9L326.3,230.9Z" stroke="#222" stroke-width="1.0" fill="none"/>
<path stroke="#222" stroke-width="1.15" fill="none" d="M221.6,297.5 L222.27,297.52 L222.94,297.53 L223.61,297.55 L224.28,297.57 L224.95,297.59 L225.63,297.61 L226.3,297.63 L226.97,297.65 L227.64,297.67 L228.31,297.69 L228.98,297.72 L229.65,297.75 L230.32,297.77 L230.99,297.8 L231.66,297.84 L232.33,297.87 L233,297.91 L233.67,297.95 L234.34,297.99 L235.01,298.03 L235.68,298.08 L236.35,298.13 L237.01,298.18 L237.68,298.24 L238.35,298.3 L239.02,298.36 L239.69,298.42 L240.36,298.49 L241.02,298.56 L241.69,298.63 L242.36,298.71 L243.02,298.79 L243.69,298.87 L244.36,298.95 L245.02,299.04 L245.69,299.13 L246.35,299.22 L247.02,299.32 L247.68,299.41 L248.35,299.52 L249.01,299.62 L249.67,299.73 L250.33,299.84 L250.99,299.96 L251.65,300.08 L252.31,300.2 L252.97,300.33 L253.63,300.47 L254.29,300.61 L254.94,300.75 L255.59,300.9 L256.25,301.05 L256.9,301.21 L257.55,301.38 L258.2,301.55 L258.84,301.72 L259.49,301.9 L260.14,302.08 L260.78,302.27 L261.43,302.46 L262.07,302.65 L262.71,302.84 L263.35,303.04 L264,303.23 L264.64,303.43 L265.28,303.64 L265.92,303.84 L266.56,304.04 L267.2,304.24 L267.84,304.45 L268.48,304.65 L269.12,304.86 L269.76,305.06 L270.4,305.26 L271.04,305.46 L271.68,305.66 L272.32,305.85 L272.97,306.04 L273.61,306.23 L274.26,306.41 L274.9,306.59 L275.55,306.76 L276.2,306.93 L276.85,307.09 L277.51,307.24 L278.16,307.39 L278.82,307.53 L279.48,307.66 L280.14,307.79 L280.8,307.9 L281.47,308 L282.14,308.09 L282.8,308.17 L283.47,308.24 L284.14,308.3 L284.82,308.34 L285.49,308.37 L286.16,308.38 L286.84,308.37 L287.51,308.35 L288.18,308.32 L288.86,308.26 L289.53,308.19 L290.21,308.09 L290.88,307.98 L291.54,307.85 L292.2,307.7 L292.85,307.52 L293.5,307.32 L294.14,307.11 L294.76,306.86 L295.38,306.6 L295.98,306.31 L296.57,306 L297.15,305.66 L297.71,305.3 L298.26,304.93 L298.81,304.53 L299.34,304.12 L299.86,303.7 L300.38,303.26 L300.88,302.81 L301.38,302.35 L301.88,301.89 L302.37,301.42 L302.85,300.94 L303.33,300.47 L303.81,299.99 L304.29,299.51 L304.76,299.03 L305.23,298.55 L305.7,298.08 L306.17,297.6 L306.64,297.12 L307.11,296.64 L307.57,296.16 L308.04,295.68 L308.51,295.2 L308.98,294.73 L309.45,294.25 L309.92,293.77 L310.4,293.3 L310.88,292.83 L311.36,292.35 L311.84,291.89 L312.33,291.42 L312.83,290.96 L313.33,290.51 L313.84,290.07 L314.35,289.64 L314.87,289.22 L315.4,288.81 L315.94,288.42 L316.49,288.04 L317.05,287.68 L317.62,287.33 L318.2,286.99 L318.78,286.67 L319.38,286.36 L319.98,286.05 L320.58,285.76 L321.19,285.47 L321.81,285.18 L322.43,284.9 L323.05,284.62 L323.67,284.34 L324.3,284.08 L324.93,283.82 L325.56,283.57 L326.2,283.34 L326.84,283.12 L327.48,282.91 L328.12,282.73 L328.77,282.56 L329.42,282.42 L330.08,282.31 L330.73,282.22 L331.39,282.16 L332.05,282.12 L332.71,282.12 L333.37,282.13 L334.04,282.17 L334.71,282.23 L335.37,282.3 L336.04,282.4 L336.71,282.5 L337.38,282.62 L338.05,282.75 L338.72,282.88 L339.39,283.02 L340.06,283.17 L340.72,283.32 L341.39,283.46 L342.05,283.61 L342.72,283.76 L343.38,283.9 L344.04,284.05 L344.7,284.19 L345.36,284.34 L346.01,284.48 L346.67,284.62 L347.32,284.76 L347.98,284.9 L348.63,285.05 L349.29,285.19 L349.94,285.33 L350.59,285.47 L351.24,285.6 L351.9,285.74 L352.55,285.88 L353.2,286.02 L353.85,286.16 L354.5,286.3"/>
<path d="M253.8,300.9L257.4,300.9M254.7,299.34L256.5,302.46M256.5,299.34L254.7,302.46" stroke="#222" stroke-width="1.4" fill="none"/>
<path d="M286.6,308.3L290.2,308.3M287.5,306.74L289.3,309.86M289.3,306.74L287.5,309.86" stroke="#222" stroke-width="1.4" fill="none"/>
<path d="M320.4,285L324,285M321.3,283.44L323.1,286.56M323.1,283.44L321.3,286.56" stroke="#222" stroke-width="1.4" fill="none"/>
<path stroke="#ff1a26" stroke-width="1.15" fill="none" stroke-dasharray="5.2 4" d="M221.6,297.5 L222.27,297.56 L222.93,297.62 L223.6,297.68 L224.27,297.74 L224.94,297.8 L225.6,297.86 L226.27,297.92 L226.94,297.98 L227.61,298.04 L228.27,298.1 L228.94,298.16 L229.61,298.21 L230.28,298.27 L230.95,298.33 L231.62,298.38 L232.29,298.44 L232.96,298.49 L233.63,298.55 L234.3,298.6 L234.97,298.65 L235.64,298.7 L236.31,298.75 L236.99,298.8 L237.66,298.85 L238.33,298.89 L239.01,298.94 L239.68,298.98 L240.36,299.02 L241.03,299.06 L241.71,299.1 L242.39,299.15 L243.06,299.19 L243.74,299.23 L244.41,299.28 L245.09,299.33 L245.76,299.38 L246.44,299.44 L247.11,299.5 L247.78,299.57 L248.45,299.64 L249.12,299.72 L249.79,299.81 L250.45,299.91 L251.11,300.01 L251.77,300.13 L252.43,300.25 L253.09,300.39 L253.74,300.53 L254.39,300.69 L255.03,300.87 L255.67,301.05 L256.31,301.25 L256.95,301.46 L257.58,301.69 L258.21,301.92 L258.83,302.17 L259.46,302.43 L260.07,302.7 L260.69,302.97 L261.3,303.26 L261.91,303.55 L262.52,303.84 L263.12,304.15 L263.72,304.46 L264.32,304.77 L264.91,305.08 L265.51,305.41 L266.1,305.73 L266.68,306.06 L267.27,306.39 L267.85,306.73 L268.43,307.07 L269,307.42 L269.57,307.77 L270.14,308.13 L270.71,308.49 L271.27,308.85 L271.84,309.22 L272.39,309.6 L272.95,309.97 L273.5,310.36 L274.05,310.74 L274.6,311.13 L275.15,311.52 L275.7,311.91 L276.25,312.3 L276.8,312.69 L277.35,313.07 L277.9,313.46 L278.45,313.84 L279.01,314.21 L279.57,314.59 L280.13,314.95 L280.7,315.31 L281.27,315.66 L281.84,316.01 L282.43,316.35 L283.01,316.68 L283.6,317 L284.19,317.32 L284.79,317.63 L285.39,317.93 L285.99,318.23 L286.6,318.52 L287.21,318.81 L287.82,319.09 L288.43,319.37 L289.05,319.64 L289.67,319.91 L290.28,320.18 L290.91,320.44 L291.53,320.69 L292.15,320.95 L292.78,321.2 L293.4,321.44 L294.03,321.69 L294.65,321.93 L295.28,322.17 L295.91,322.41 L296.54,322.65 L297.17,322.88 L297.8,323.12 L298.43,323.35 L299.06,323.58 L299.69,323.81 L300.32,324.04 L300.95,324.28 L301.58,324.51 L302.21,324.74 L302.84,324.97 L303.47,325.2 L304.11,325.43 L304.74,325.66 L305.37,325.89 L306,326.12 L306.63,326.35 L307.26,326.58 L307.9,326.8 L308.53,327.03 L309.16,327.25 L309.79,327.48 L310.43,327.7 L311.06,327.91 L311.7,328.13 L312.34,328.34 L312.97,328.55 L313.61,328.76 L314.26,328.96 L314.9,329.16 L315.54,329.36 L316.19,329.55 L316.84,329.74 L317.49,329.92 L318.14,330.1 L318.79,330.28 L319.44,330.46 L320.09,330.63 L320.74,330.82 L321.39,331 L322.04,331.19 L322.68,331.38 L323.32,331.59 L323.96,331.8 L324.59,332.02 L325.21,332.26 L325.83,332.5 L326.45,332.76 L327.06,333.04 L327.66,333.33 L328.25,333.63 L328.84,333.95 L329.43,334.27 L330.01,334.61 L330.59,334.95 L331.17,335.3 L331.74,335.65 L332.32,336.01 L332.89,336.37 L333.46,336.74 L334.03,337.1 L334.6,337.46 L335.17,337.83 L335.75,338.19 L336.32,338.54 L336.9,338.9 L337.48,339.24 L338.06,339.59 L338.65,339.92 L339.23,340.25 L339.82,340.57 L340.42,340.88 L341.02,341.18 L341.62,341.48 L342.23,341.76 L342.84,342.03 L343.46,342.28 L344.08,342.52 L344.7,342.75 L345.34,342.97 L345.97,343.18 L346.61,343.37 L347.26,343.56 L347.9,343.74 L348.55,343.91 L349.21,344.07 L349.86,344.22 L350.52,344.37 L351.18,344.52 L351.84,344.66 L352.51,344.8 L353.17,344.93 L353.84,345.07 L354.5,345.2"/>
<path stroke="#ff1a26" stroke-width="1.15" fill="none" stroke-dasharray="5.2 4" d="M221.6,297.5 L222.27,297.54 L222.94,297.59 L223.61,297.64 L224.28,297.68 L224.94,297.73 L225.61,297.77 L226.28,297.82 L226.95,297.87 L227.62,297.91 L228.29,297.96 L228.96,298.01 L229.63,298.06 L230.29,298.11 L230.96,298.16 L231.63,298.22 L232.3,298.27 L232.97,298.33 L233.63,298.38 L234.3,298.44 L234.97,298.5 L235.64,298.56 L236.3,298.62 L236.97,298.69 L237.64,298.75 L238.31,298.82 L238.97,298.89 L239.64,298.96 L240.31,299.03 L240.97,299.11 L241.64,299.19 L242.3,299.27 L242.97,299.35 L243.63,299.44 L244.3,299.53 L244.96,299.62 L245.63,299.72 L246.29,299.82 L246.95,299.92 L247.61,300.03 L248.27,300.14 L248.94,300.26 L249.59,300.38 L250.25,300.5 L250.91,300.64 L251.57,300.77 L252.22,300.91 L252.88,301.06 L253.53,301.21 L254.19,301.37 L254.84,301.54 L255.49,301.71 L256.13,301.89 L256.78,302.07 L257.42,302.26 L258.06,302.46 L258.7,302.66 L259.34,302.87 L259.98,303.09 L260.61,303.32 L261.24,303.55 L261.87,303.79 L262.49,304.04 L263.11,304.29 L263.73,304.56 L264.34,304.83 L264.95,305.11 L265.56,305.39 L266.16,305.69 L266.76,305.99 L267.36,306.31 L267.95,306.63 L268.54,306.95 L269.12,307.29 L269.7,307.63 L270.27,307.99 L270.83,308.34 L271.39,308.71 L271.95,309.09 L272.5,309.47 L273.04,309.86 L273.58,310.26 L274.12,310.66 L274.64,311.08 L275.17,311.49 L275.69,311.91 L276.21,312.34 L276.72,312.77 L277.23,313.21 L277.74,313.64 L278.25,314.08 L278.75,314.53 L279.26,314.97 L279.76,315.41 L280.26,315.86 L280.77,316.3 L281.27,316.75 L281.77,317.19 L282.28,317.64 L282.78,318.08 L283.28,318.52 L283.79,318.96 L284.29,319.4 L284.8,319.85 L285.3,320.29 L285.81,320.73 L286.31,321.17 L286.82,321.61 L287.32,322.05 L287.83,322.49 L288.33,322.93 L288.84,323.37 L289.34,323.82 L289.84,324.26 L290.34,324.7 L290.85,325.15 L291.35,325.59 L291.85,326.04 L292.35,326.49 L292.84,326.93 L293.34,327.38 L293.84,327.83 L294.33,328.29 L294.83,328.74 L295.32,329.19 L295.81,329.64 L296.31,330.1 L296.8,330.55 L297.3,331 L297.8,331.44 L298.3,331.89 L298.8,332.33 L299.31,332.77 L299.82,333.2 L300.34,333.64 L300.85,334.06 L301.38,334.48 L301.91,334.9 L302.44,335.31 L302.98,335.71 L303.53,336.1 L304.08,336.49 L304.64,336.87 L305.2,337.24 L305.77,337.6 L306.35,337.95 L306.93,338.29 L307.52,338.62 L308.11,338.93 L308.71,339.24 L309.31,339.53 L309.92,339.81 L310.53,340.08 L311.16,340.33 L311.78,340.57 L312.41,340.79 L313.05,341 L313.69,341.19 L314.33,341.37 L314.98,341.53 L315.64,341.68 L316.29,341.82 L316.95,341.95 L317.62,342.06 L318.29,342.17 L318.96,342.26 L319.63,342.34 L320.31,342.41 L320.98,342.46 L321.66,342.49 L322.33,342.49 L323,342.47 L323.67,342.41 L324.32,342.31 L324.97,342.18 L325.61,342.01 L326.25,341.8 L326.88,341.58 L327.51,341.33 L328.13,341.07 L328.76,340.81 L329.38,340.55 L330.01,340.29 L330.64,340.04 L331.27,339.8 L331.91,339.56 L332.54,339.32 L333.18,339.09 L333.81,338.85 L334.44,338.62 L335.07,338.38 L335.7,338.15 L336.33,337.9 L336.95,337.66 L337.57,337.41 L338.18,337.15 L338.8,336.88 L339.4,336.6 L340,336.32 L340.59,336.02 L341.18,335.71 L341.76,335.38 L342.33,335.04 L342.89,334.69 L343.45,334.32 L344,333.94 L344.55,333.55 L345.08,333.15 L345.62,332.74 L346.15,332.33 L346.67,331.9 L347.2,331.48 L347.72,331.05 L348.24,330.62 L348.75,330.19 L349.27,329.76 L349.79,329.32 L350.3,328.89 L350.81,328.46 L351.33,328.03 L351.84,327.6 L352.35,327.16 L352.86,326.73 L353.37,326.3 L353.88,325.87 L354.39,325.43 L354.9,325"/>
<path d="M221.6,295.1L224.2,299.6L219,299.6Z" stroke="#ff1a26" stroke-width="1.2" fill="none"/>
<path d="M251.7,298.4L254.3,302.9L249.1,302.9Z" stroke="#ff1a26" stroke-width="1.2" fill="none"/>
<path d="M281.1,314.2L283.7,318.7L278.5,318.7Z" stroke="#ff1a26" stroke-width="1.2" fill="none"/>
<path d="M311.6,338.1L314.2,342.6L309,342.6Z" stroke="#ff1a26" stroke-width="1.2" fill="none"/>
<path d="M341.9,332.9L344.5,337.4L339.3,337.4Z" stroke="#ff1a26" stroke-width="1.2" fill="none"/>
<path d="M253.4,301L257.6,301M254.45,299.18L256.55,302.82M256.55,299.18L254.45,302.82" stroke="#ff1a26" stroke-width="1.25" fill="none"/>
<path d="M289.2,320.6L293.4,320.6M290.25,318.78L292.35,322.42M292.35,318.78L290.25,322.42" stroke="#ff1a26" stroke-width="1.25" fill="none"/>
<path d="M324.2,332.7L328.4,332.7M325.25,330.88L327.35,334.52M327.35,330.88L325.25,334.52" stroke="#ff1a26" stroke-width="1.25" fill="none"/>
<path stroke="#4a4a4a" stroke-width="1.2" fill="none" d="M414.5,217.8L414.5,343.8L541.3,343.8"/>
<path stroke="#4a4a4a" stroke-width="1.2" fill="none" d="M410.9,343.8H414.5M412.3,331.2H414.5M410.9,318.6H414.5M412.3,306H414.5M410.9,293.4H414.5M412.3,280.8H414.5M410.9,268.2H414.5M412.3,255.6H414.5M410.9,243H414.5M412.3,230.4H414.5M410.9,217.8H414.5M414.5,343.8V347.2M427.18,343.8V346M439.86,343.8V346M452.54,343.8V346M465.22,343.8V346M477.9,343.8V347.2M490.58,343.8V346M503.26,343.8V346M515.94,343.8V346M528.62,343.8V346M541.3,343.8V347.2"/>
<path stroke="#222" stroke-width="1.15" fill="none" d="M414.5,343.5 L414.71,342.86 L414.92,342.23 L415.13,341.59 L415.35,340.96 L415.56,340.32 L415.77,339.69 L415.99,339.05 L416.2,338.41 L416.41,337.78 L416.63,337.14 L416.85,336.51 L417.06,335.88 L417.28,335.24 L417.5,334.61 L417.72,333.98 L417.94,333.34 L418.17,332.71 L418.39,332.08 L418.62,331.45 L418.85,330.82 L419.08,330.19 L419.31,329.56 L419.54,328.93 L419.77,328.3 L420.01,327.68 L420.24,327.05 L420.48,326.42 L420.71,325.79 L420.95,325.17 L421.19,324.54 L421.43,323.91 L421.67,323.29 L421.91,322.66 L422.14,322.03 L422.38,321.41 L422.62,320.78 L422.86,320.16 L423.1,319.53 L423.33,318.9 L423.57,318.28 L423.81,317.65 L424.04,317.02 L424.28,316.4 L424.51,315.77 L424.75,315.14 L424.98,314.51 L425.22,313.89 L425.46,313.26 L425.7,312.64 L425.94,312.01 L426.19,311.39 L426.43,310.77 L426.68,310.15 L426.94,309.52 L427.19,308.9 L427.45,308.29 L427.72,307.67 L427.99,307.05 L428.26,306.44 L428.54,305.83 L428.83,305.22 L429.11,304.61 L429.41,304 L429.71,303.4 L430.01,302.79 L430.32,302.19 L430.63,301.6 L430.95,301 L431.26,300.41 L431.59,299.81 L431.91,299.23 L432.24,298.64 L432.57,298.06 L432.9,297.48 L433.23,296.9 L433.56,296.32 L433.9,295.75 L434.23,295.18 L434.57,294.62 L434.9,294.06 L435.24,293.5 L435.59,292.94 L435.93,292.38 L436.29,291.83 L436.65,291.28 L437.01,290.73 L437.39,290.19 L437.78,289.64 L438.18,289.1 L438.59,288.55 L439.01,288.01 L439.46,287.47 L439.91,286.93 L440.39,286.39 L440.88,285.85 L441.39,285.33 L441.92,284.82 L442.46,284.35 L443.01,283.91 L443.58,283.52 L444.16,283.19 L444.74,282.92 L445.34,282.73 L445.95,282.61 L446.57,282.59 L447.19,282.65 L447.81,282.8 L448.43,283.01 L449.05,283.29 L449.66,283.62 L450.26,284 L450.85,284.42 L451.43,284.87 L451.99,285.35 L452.53,285.84 L453.05,286.34 L453.54,286.85 L454.01,287.36 L454.47,287.87 L454.9,288.4 L455.32,288.92 L455.72,289.46 L456.1,290 L456.47,290.54 L456.83,291.09 L457.18,291.65 L457.52,292.21 L457.85,292.77 L458.18,293.34 L458.5,293.92 L458.82,294.5 L459.13,295.09 L459.43,295.68 L459.73,296.28 L460.03,296.88 L460.32,297.48 L460.6,298.09 L460.88,298.7 L461.16,299.31 L461.43,299.93 L461.7,300.55 L461.97,301.17 L462.23,301.79 L462.48,302.42 L462.74,303.04 L462.99,303.67 L463.23,304.3 L463.47,304.93 L463.71,305.56 L463.95,306.19 L464.18,306.82 L464.41,307.45 L464.64,308.09 L464.86,308.72 L465.08,309.35 L465.3,309.99 L465.51,310.62 L465.73,311.26 L465.94,311.89 L466.15,312.53 L466.35,313.16 L466.56,313.8 L466.76,314.44 L466.96,315.08 L467.16,315.72 L467.35,316.36 L467.55,317 L467.74,317.64 L467.93,318.28 L468.12,318.92 L468.31,319.56 L468.5,320.21 L468.69,320.85 L468.87,321.49 L469.06,322.14 L469.24,322.78 L469.42,323.43 L469.6,324.07 L469.77,324.72 L469.95,325.37 L470.13,326.01 L470.3,326.66 L470.47,327.31 L470.64,327.96 L470.81,328.61 L470.98,329.26 L471.15,329.91 L471.31,330.56 L471.48,331.21 L471.64,331.86 L471.8,332.51 L471.96,333.16 L472.12,333.81 L472.28,334.46 L472.43,335.11 L472.59,335.76 L472.74,336.42 L472.9,337.07 L473.05,337.72 L473.2,338.37 L473.35,339.03 L473.5,339.68 L473.65,340.33 L473.8,340.99 L473.95,341.64 L474.1,342.29 L474.25,342.95 L474.4,343.6"/>
<path stroke="#ff3a48" stroke-width="1.05" fill="none" stroke-dasharray="5.2 4" d="M414.5,343.5 L414.68,342.85 L414.86,342.21 L415.04,341.56 L415.22,340.92 L415.4,340.27 L415.58,339.63 L415.76,338.98 L415.93,338.34 L416.11,337.69 L416.28,337.04 L416.45,336.39 L416.62,335.75 L416.78,335.1 L416.95,334.45 L417.11,333.8 L417.27,333.15 L417.42,332.49 L417.57,331.84 L417.72,331.19 L417.86,330.54 L418.01,329.88 L418.15,329.23 L418.29,328.57 L418.43,327.92 L418.56,327.26 L418.7,326.6 L418.83,325.95 L418.97,325.29 L419.1,324.63 L419.23,323.98 L419.36,323.32 L419.5,322.66 L419.63,322.01 L419.76,321.35 L419.9,320.7 L420.03,320.04 L420.17,319.38 L420.31,318.73 L420.45,318.07 L420.59,317.42 L420.73,316.76 L420.87,316.11 L421.01,315.45 L421.16,314.8 L421.3,314.15 L421.44,313.49 L421.59,312.84 L421.73,312.18 L421.88,311.53 L422.02,310.88 L422.17,310.22 L422.31,309.57 L422.46,308.91 L422.6,308.26 L422.75,307.61 L422.89,306.95 L423.03,306.3 L423.17,305.64 L423.32,304.99 L423.46,304.33 L423.6,303.68 L423.74,303.02 L423.88,302.37 L424.02,301.71 L424.16,301.06 L424.3,300.4 L424.44,299.75 L424.58,299.09 L424.72,298.44 L424.86,297.78 L425,297.13 L425.14,296.47 L425.28,295.82 L425.42,295.16 L425.56,294.51 L425.71,293.85 L425.85,293.2 L425.99,292.55 L426.14,291.89 L426.28,291.24 L426.43,290.58 L426.57,289.93 L426.72,289.28 L426.87,288.62 L427.01,287.97 L427.16,287.32 L427.31,286.66 L427.46,286.01 L427.61,285.36 L427.76,284.7 L427.91,284.05 L428.06,283.4 L428.21,282.75 L428.36,282.09 L428.51,281.44 L428.67,280.79 L428.82,280.14 L428.97,279.49 L429.13,278.84 L429.28,278.18 L429.44,277.53 L429.59,276.88 L429.75,276.23 L429.9,275.58 L430.06,274.93 L430.22,274.28 L430.38,273.62 L430.53,272.97 L430.69,272.32 L430.85,271.67 L431.01,271.02 L431.16,270.37 L431.32,269.72 L431.48,269.07 L431.64,268.42 L431.8,267.76 L431.96,267.11 L432.12,266.46 L432.28,265.81 L432.44,265.16 L432.61,264.51 L432.77,263.86 L432.94,263.21 L433.1,262.57 L433.27,261.92 L433.44,261.27 L433.62,260.62 L433.79,259.98 L433.97,259.33 L434.15,258.69 L434.33,258.04 L434.52,257.4 L434.7,256.76 L434.9,256.12 L435.09,255.48 L435.29,254.84 L435.5,254.2 L435.71,253.57 L435.92,252.93 L436.14,252.3 L436.37,251.67 L436.61,251.04 L436.85,250.42 L437.1,249.79 L437.36,249.17 L437.62,248.55 L437.9,247.93 L438.18,247.32 L438.49,246.72 L438.8,246.12 L439.14,245.54 L439.5,244.97 L439.88,244.41 L440.28,243.88 L440.72,243.36 L441.18,242.87 L441.68,242.4 L442.22,241.96 L442.78,241.56 L443.38,241.19 L443.99,240.88 L444.63,240.63 L445.27,240.44 L445.93,240.33 L446.59,240.3 L447.25,240.36 L447.9,240.5 L448.55,240.71 L449.18,240.97 L449.79,241.29 L450.39,241.65 L450.96,242.04 L451.5,242.46 L452.02,242.9 L452.51,243.36 L452.99,243.84 L453.44,244.34 L453.87,244.86 L454.28,245.39 L454.68,245.93 L455.06,246.48 L455.44,247.04 L455.8,247.61 L456.15,248.18 L456.49,248.76 L456.83,249.34 L457.16,249.92 L457.48,250.51 L457.8,251.1 L458.11,251.69 L458.42,252.29 L458.72,252.89 L459.02,253.49 L459.31,254.09 L459.6,254.69 L459.88,255.3 L460.16,255.91 L460.44,256.52 L460.71,257.13 L460.99,257.74 L461.25,258.35 L461.52,258.97 L461.79,259.58 L462.05,260.2 L462.32,260.81 L462.58,261.43 L462.84,262.04 L463.1,262.66 L463.36,263.28 L463.62,263.9 L463.88,264.52 L464.14,265.13 L464.4,265.75 L464.66,266.37 L464.92,266.99 L465.18,267.61 L465.44,268.23 L465.7,268.84 L465.96,269.46 L466.22,270.08 L466.48,270.7 L466.74,271.32 L467,271.93 L467.25,272.55 L467.51,273.17 L467.76,273.79 L468.02,274.41 L468.27,275.02 L468.52,275.64 L468.77,276.26 L469.01,276.88 L469.26,277.49 L469.5,278.11 L469.74,278.73 L469.98,279.35 L470.22,279.98 L470.46,280.6 L470.7,281.22 L470.94,281.85 L471.18,282.48 L471.42,283.11 L471.66,283.74 L471.9,284.38 L472.14,285.02 L472.39,285.66 L472.63,286.3 L472.87,286.94 L473.12,287.59 L473.37,288.23 L473.61,288.86 L473.86,289.5 L474.12,290.13 L474.37,290.75 L474.62,291.36 L474.88,291.97 L475.14,292.57 L475.41,293.15 L475.67,293.73 L475.94,294.29 L476.21,294.84 L476.48,295.38 L476.76,295.93 L477.04,296.47 L477.31,297.02 L477.59,297.58 L477.88,298.16 L478.16,298.76 L478.44,299.38 L478.72,300.04 L479,300.72 L479.29,301.44 L479.57,302.21 L479.85,303.02 L480.13,303.85 L480.42,304.68 L480.72,305.48 L481.03,306.21 L481.36,306.86 L481.71,307.38 L482.09,307.77 L482.49,307.98 L482.92,308 L483.39,307.79 L483.87,307.41 L484.35,306.89 L484.81,306.27 L485.23,305.6 L485.6,304.92 L485.9,304.24 L486.15,303.57 L486.35,302.9 L486.51,302.24 L486.63,301.58 L486.72,300.93 L486.78,300.28 L486.82,299.63 L486.85,298.98 L486.87,298.33 L486.88,297.67 L486.9,297.02 L486.92,296.36 L486.96,295.71 L487,295.05 L487.04,294.38 L487.1,293.72 L487.16,293.05 L487.22,292.39 L487.29,291.72 L487.36,291.05 L487.43,290.38 L487.51,289.71 L487.59,289.03 L487.67,288.36 L487.75,287.69 L487.83,287.02 L487.91,286.35 L487.98,285.68 L488.06,285.01 L488.13,284.35 L488.21,283.68 L488.28,283.01 L488.35,282.34 L488.42,281.68 L488.48,281.01 L488.55,280.35 L488.61,279.68 L488.67,279.01 L488.73,278.35 L488.79,277.68 L488.85,277.02 L488.9,276.35 L488.96,275.69 L489.01,275.02 L489.06,274.35 L489.1,273.68 L489.15,273.02 L489.19,272.35 L489.23,271.68 L489.27,271.01 L489.31,270.34 L489.35,269.68 L489.39,269.01 L489.42,268.34 L489.46,267.67 L489.49,267 L489.52,266.33 L489.55,265.66 L489.58,264.99 L489.61,264.32 L489.64,263.65 L489.66,262.98 L489.69,262.31 L489.71,261.64 L489.74,260.97 L489.76,260.3 L489.79,259.63 L489.81,258.96 L489.83,258.29 L489.85,257.62 L489.87,256.95 L489.9,256.28 L489.92,255.61 L489.94,254.94 L489.96,254.28 L489.98,253.61 L490,252.94 L490.02,252.27 L490.04,251.6 L490.07,250.93 L490.09,250.26 L490.11,249.59 L490.13,248.92 L490.16,248.25 L490.18,247.58 L490.21,246.91 L490.23,246.24 L490.26,245.57 L490.28,244.91 L490.31,244.24 L490.34,243.57 L490.37,242.9 L490.4,242.23 L490.43,241.56 L490.46,240.89 L490.5,240.22 L490.53,239.55 L490.57,238.88 L490.6,238.22 L490.64,237.55 L490.68,236.88 L490.71,236.21 L490.75,235.54 L490.79,234.87 L490.83,234.2 L490.87,233.54 L490.91,232.87 L490.96,232.2 L491,231.53 L491.04,230.86 L491.08,230.19 L491.13,229.52 L491.17,228.86 L491.21,228.19 L491.26,227.52 L491.3,226.85 L491.35,226.18 L491.39,225.51 L491.44,224.85 L491.48,224.18 L491.53,223.51 L491.57,222.84 L491.62,222.17 L491.66,221.5 L491.71,220.84 L491.75,220.17 L491.8,219.5"/>
<text x="36.5" y="148.5" style="font-family:'DejaVu Sans','Liberation Sans',sans-serif" font-size="8.4" text-anchor="end" stroke="#111" stroke-width="0.3">9</text>
<text x="36.5" y="116.92" style="font-family:'DejaVu Sans','Liberation Sans',sans-serif" font-size="8.4" text-anchor="end" stroke="#111" stroke-width="0.3">10</text>
<text x="36.5" y="85.35" style="font-family:'DejaVu Sans','Liberation Sans',sans-serif" font-size="8.4" text-anchor="end" stroke="#111" stroke-width="0.3">11</text>
<text x="36.5" y="53.77" style="font-family:'DejaVu Sans','Liberation Sans',sans-serif" font-size="8.4" text-anchor="end" stroke="#111" stroke-width="0.3">12</text>
<text x="36.5" y="22.2" style="font-family:'DejaVu Sans','Liberation Sans',sans-serif" font-size="8.4" text-anchor="end" stroke="#111" stroke-width="0.3">13</text>
<text x="213.5" y="146.6" style="font-family:'DejaVu Sans','Liberation Sans',sans-serif" font-size="8.4" text-anchor="end" stroke="#111" stroke-width="0.3">0</text>
<text x="213.5" y="101.97" style="font-family:'DejaVu Sans','Liberation Sans',sans-serif" font-size="8.4" text-anchor="end" stroke="#111" stroke-width="0.3">1</text>
<text x="213.5" y="57.33" style="font-family:'DejaVu Sans','Liberation Sans',sans-serif" font-size="8.4" text-anchor="end" stroke="#111" stroke-width="0.3">2</text>
<text x="213.5" y="12.7" style="font-family:'DejaVu Sans','Liberation Sans',sans-serif" font-size="8.4" text-anchor="end" stroke="#111" stroke-width="0.3">3</text>
<text x="404.4" y="148.1" style="font-family:'DejaVu Sans','Liberation Sans',sans-serif" font-size="8.4" text-anchor="end" stroke="#111" stroke-width="0.3">0.0</text>
<text x="404.4" y="106.1" style="font-family:'DejaVu Sans','Liberation Sans',sans-serif" font-size="8.4" text-anchor="end" stroke="#111" stroke-width="0.3">0.1</text>
<text x="404.4" y="64.1" style="font-family:'DejaVu Sans','Liberation Sans',sans-serif" font-size="8.4" text-anchor="end" stroke="#111" stroke-width="0.3">0.2</text>
<text x="404.4" y="22.1" style="font-family:'DejaVu Sans','Liberation Sans',sans-serif" font-size="8.4" text-anchor="end" stroke="#111" stroke-width="0.3">0.3</text>
<text x="36.5" y="347.1" style="font-family:'DejaVu Sans','Liberation Sans',sans-serif" font-size="8.4" text-anchor="end" stroke="#111" stroke-width="0.3">0</text>
<text x="36.5" y="305.2" style="font-family:'DejaVu Sans','Liberation Sans',sans-serif" font-size="8.4" text-anchor="end" stroke="#111" stroke-width="0.3">10</text>
<text x="36.5" y="263.3" style="font-family:'DejaVu Sans','Liberation Sans',sans-serif" font-size="8.4" text-anchor="end" stroke="#111" stroke-width="0.3">20</text>
<text x="36.5" y="221.4" style="font-family:'DejaVu Sans','Liberation Sans',sans-serif" font-size="8.4" text-anchor="end" stroke="#111" stroke-width="0.3">30</text>
<text x="213.5" y="345.8" style="font-family:'DejaVu Sans','Liberation Sans',sans-serif" font-size="8.4" text-anchor="end" stroke="#111" stroke-width="0.3">0</text>
<text x="213.5" y="301.17" style="font-family:'DejaVu Sans','Liberation Sans',sans-serif" font-size="8.4" text-anchor="end" stroke="#111" stroke-width="0.3">1</text>
<text x="213.5" y="256.53" style="font-family:'DejaVu Sans','Liberation Sans',sans-serif" font-size="8.4" text-anchor="end" stroke="#111" stroke-width="0.3">2</text>
<text x="213.5" y="211.9" style="font-family:'DejaVu Sans','Liberation Sans',sans-serif" font-size="8.4" text-anchor="end" stroke="#111" stroke-width="0.3">3</text>
<text x="404.4" y="347.1" style="font-family:'DejaVu Sans','Liberation Sans',sans-serif" font-size="8.4" text-anchor="end" stroke="#111" stroke-width="0.3">0.0</text>
<text x="404.4" y="321.9" style="font-family:'DejaVu Sans','Liberation Sans',sans-serif" font-size="8.4" text-anchor="end" stroke="#111" stroke-width="0.3">0.1</text>
<text x="404.4" y="296.7" style="font-family:'DejaVu Sans','Liberation Sans',sans-serif" font-size="8.4" text-anchor="end" stroke="#111" stroke-width="0.3">0.2</text>
<text x="404.4" y="271.5" style="font-family:'DejaVu Sans','Liberation Sans',sans-serif" font-size="8.4" text-anchor="end" stroke="#111" stroke-width="0.3">0.3</text>
<text x="404.4" y="246.3" style="font-family:'DejaVu Sans','Liberation Sans',sans-serif" font-size="8.4" text-anchor="end" stroke="#111" stroke-width="0.3">0.4</text>
<text x="404.4" y="221.1" style="font-family:'DejaVu Sans','Liberation Sans',sans-serif" font-size="8.4" text-anchor="end" stroke="#111" stroke-width="0.3">0.5</text>
<text x="42.9" y="158.4" style="font-family:'DejaVu Sans','Liberation Sans',sans-serif" font-size="8.4" text-anchor="middle" stroke="#111" stroke-width="0.3">0.0</text>
<text x="105.9" y="158.4" style="font-family:'DejaVu Sans','Liberation Sans',sans-serif" font-size="8.4" text-anchor="middle" stroke="#111" stroke-width="0.3">0.5</text>
<text x="168.9" y="158.4" style="font-family:'DejaVu Sans','Liberation Sans',sans-serif" font-size="8.4" text-anchor="middle" stroke="#111" stroke-width="0.3">1.0</text>
<text x="220" y="157.6" style="font-family:'DejaVu Sans','Liberation Sans',sans-serif" font-size="8.4" text-anchor="middle" stroke="#111" stroke-width="0.3">0.0</text>
<text x="286.95" y="157.6" style="font-family:'DejaVu Sans','Liberation Sans',sans-serif" font-size="8.4" text-anchor="middle" stroke="#111" stroke-width="0.3">0.5</text>
<text x="353.9" y="157.6" style="font-family:'DejaVu Sans','Liberation Sans',sans-serif" font-size="8.4" text-anchor="middle" stroke="#111" stroke-width="0.3">1.0</text>
<text x="412.9" y="158.3" style="font-family:'DejaVu Sans','Liberation Sans',sans-serif" font-size="8.4" text-anchor="middle" stroke="#111" stroke-width="0.3">0.0</text>
<text x="476.3" y="158.3" style="font-family:'DejaVu Sans','Liberation Sans',sans-serif" font-size="8.4" text-anchor="middle" stroke="#111" stroke-width="0.3">0.5</text>
<text x="539.7" y="158.3" style="font-family:'DejaVu Sans','Liberation Sans',sans-serif" font-size="8.4" text-anchor="middle" stroke="#111" stroke-width="0.3">1.0</text>
<text x="42.9" y="357.6" style="font-family:'DejaVu Sans','Liberation Sans',sans-serif" font-size="8.4" text-anchor="middle" stroke="#111" stroke-width="0.3">0.0</text>
<text x="105.9" y="357.6" style="font-family:'DejaVu Sans','Liberation Sans',sans-serif" font-size="8.4" text-anchor="middle" stroke="#111" stroke-width="0.3">0.5</text>
<text x="168.9" y="357.6" style="font-family:'DejaVu Sans','Liberation Sans',sans-serif" font-size="8.4" text-anchor="middle" stroke="#111" stroke-width="0.3">1.0</text>
<text x="220" y="356.9" style="font-family:'DejaVu Sans','Liberation Sans',sans-serif" font-size="8.4" text-anchor="middle" stroke="#111" stroke-width="0.3">0.0</text>
<text x="286.95" y="356.9" style="font-family:'DejaVu Sans','Liberation Sans',sans-serif" font-size="8.4" text-anchor="middle" stroke="#111" stroke-width="0.3">0.5</text>
<text x="353.9" y="356.9" style="font-family:'DejaVu Sans','Liberation Sans',sans-serif" font-size="8.4" text-anchor="middle" stroke="#111" stroke-width="0.3">1.0</text>
<text x="412.9" y="357.3" style="font-family:'DejaVu Sans','Liberation Sans',sans-serif" font-size="8.4" text-anchor="middle" stroke="#111" stroke-width="0.3">0.0</text>
<text x="476.3" y="357.3" style="font-family:'DejaVu Sans','Liberation Sans',sans-serif" font-size="8.4" text-anchor="middle" stroke="#111" stroke-width="0.3">0.5</text>
<text x="539.7" y="357.3" style="font-family:'DejaVu Sans','Liberation Sans',sans-serif" font-size="8.4" text-anchor="middle" stroke="#111" stroke-width="0.3">1.0</text>
<text transform="translate(102.23,169.85) scale(1.147,0.994)" style="font-family:'DejaVu Serif','Liberation Serif',serif" font-size="11" stroke="#111" stroke-width="0.140">εt</text>
<text transform="translate(280.38,170.14) scale(1.242,1.058)" style="font-family:'DejaVu Serif','Liberation Serif',serif" font-size="11" stroke="#111" stroke-width="0.130">εt</text>
<text transform="translate(470.45,170.15) scale(1.105,1.006)" style="font-family:'DejaVu Serif','Liberation Serif',serif" font-size="11" stroke="#111" stroke-width="0.142">εt</text>
<text transform="translate(101.91,368.86) scale(1.179,0.968)" style="font-family:'DejaVu Serif','Liberation Serif',serif" font-size="11" stroke="#111" stroke-width="0.140">εt</text>
<text transform="translate(280.39,368.85) scale(1.221,1.006)" style="font-family:'DejaVu Serif','Liberation Serif',serif" font-size="11" stroke="#111" stroke-width="0.135">εt</text>
<text transform="translate(470.45,368.86) scale(1.105,0.968)" style="font-family:'DejaVu Serif','Liberation Serif',serif" font-size="11" stroke="#111" stroke-width="0.145">εt</text>
<text transform="translate(75.88,190.31) scale(1.096,0.968)" style="font-family:'Liberation Serif','DejaVu Serif',serif" font-size="16.5">(<tspan stroke="#111" stroke-width="0.55">a</tspan>)</text>
<text transform="translate(261.94,189.74) scale(1.149,0.931)" style="font-family:'Liberation Serif','DejaVu Serif',serif" font-size="16.5">(<tspan stroke="#111" stroke-width="0.55">b</tspan>)</text>
<text transform="translate(449.77,190) scale(1.102,0.914)" style="font-family:'Liberation Serif','DejaVu Serif',serif" font-size="16.5">(<tspan stroke="#111" stroke-width="0.55">c</tspan>)</text>
<text transform="translate(76.55,389.43) scale(1.127,0.905)" style="font-family:'Liberation Serif','DejaVu Serif',serif" font-size="16.5">(<tspan stroke="#111" stroke-width="0.55">d</tspan>)</text>
<text transform="translate(263.88,389.78) scale(1.096,0.921)" style="font-family:'Liberation Serif','DejaVu Serif',serif" font-size="16.5">(<tspan stroke="#111" stroke-width="0.55">e</tspan>)</text>
<text transform="translate(450.42,389.57) scale(1.173,0.865)" style="font-family:'Liberation Serif','DejaVu Serif',serif" font-size="16.5">(<tspan stroke="#111" stroke-width="0.55">f</tspan>)</text>
<text transform="translate(17.18,103.17) rotate(-90) scale(1.004,0.985)" style="font-family:'DejaVu Serif','Liberation Serif',serif" font-size="11" font-style="italic" stroke="#111" stroke-width="0.302">ρ</text>
<text transform="translate(18.9,96.49) rotate(-90) scale(0.834,0.834)" style="font-family:'DejaVu Serif','Liberation Serif',serif" font-size="8" stroke="#111" stroke-width="0.360">1</text>
<text transform="translate(10.6,92.42) rotate(-90) scale(1.040,0.868)" style="font-family:'DejaVu Serif','Liberation Serif',serif" font-size="8" stroke="#111" stroke-width="0.314">2</text>
<text transform="translate(17.12,86.6) rotate(-90) scale(0.655,0.655)" style="font-family:'DejaVu Serif','Liberation Serif',serif" font-size="11" stroke="#111" stroke-width="0.458">,</text>
<text transform="translate(17.18,75.98) rotate(-90) scale(0.973,0.985)" style="font-family:'DejaVu Serif','Liberation Serif',serif" font-size="11" font-style="italic" stroke="#111" stroke-width="0.307">ρ</text>
<text transform="translate(19.1,68.97) rotate(-90) scale(0.933,0.936)" style="font-family:'DejaVu Serif','Liberation Serif',serif" font-size="8" stroke="#111" stroke-width="0.321">2</text>
<text transform="translate(10.6,64.52) rotate(-90) scale(1.040,0.868)" style="font-family:'DejaVu Serif','Liberation Serif',serif" font-size="8" stroke="#111" stroke-width="0.314">2</text>
<text transform="translate(17.18,302.37) rotate(-90) scale(1.004,0.985)" style="font-family:'DejaVu Serif','Liberation Serif',serif" font-size="11" font-style="italic" stroke="#111" stroke-width="0.302">ρ</text>
<text transform="translate(18.9,295.69) rotate(-90) scale(0.834,0.834)" style="font-family:'DejaVu Serif','Liberation Serif',serif" font-size="8" stroke="#111" stroke-width="0.360">1</text>
<text transform="translate(10.6,291.62) rotate(-90) scale(1.040,0.868)" style="font-family:'DejaVu Serif','Liberation Serif',serif" font-size="8" stroke="#111" stroke-width="0.314">2</text>
<text transform="translate(17.12,285.8) rotate(-90) scale(0.655,0.655)" style="font-family:'DejaVu Serif','Liberation Serif',serif" font-size="11" stroke="#111" stroke-width="0.458">,</text>
<text transform="translate(17.18,275.18) rotate(-90) scale(0.973,0.985)" style="font-family:'DejaVu Serif','Liberation Serif',serif" font-size="11" font-style="italic" stroke="#111" stroke-width="0.307">ρ</text>
<text transform="translate(19.1,268.17) rotate(-90) scale(0.933,0.936)" style="font-family:'DejaVu Serif','Liberation Serif',serif" font-size="8" stroke="#111" stroke-width="0.321">2</text>
<text transform="translate(10.6,263.72) rotate(-90) scale(1.040,0.868)" style="font-family:'DejaVu Serif','Liberation Serif',serif" font-size="8" stroke="#111" stroke-width="0.314">2</text>
<text transform="translate(199.6,97.08) rotate(-90) scale(0.954,0.960)" style="font-family:'DejaVu Serif','Liberation Serif',serif" font-size="11.5" stroke="#111" stroke-width="0.314">λ</text>
<text transform="translate(202,88.88) rotate(-90) scale(0.851,0.851)" style="font-family:'DejaVu Serif','Liberation Serif',serif" font-size="8" stroke="#111" stroke-width="0.352">1</text>
<text transform="translate(200.04,82.7) rotate(-90) scale(0.509,0.509)" style="font-family:'DejaVu Serif','Liberation Serif',serif" font-size="11" stroke="#111" stroke-width="0.589">,</text>
<text transform="translate(199.6,71.65) rotate(-90) scale(0.908,0.960)" style="font-family:'DejaVu Serif','Liberation Serif',serif" font-size="11.5" stroke="#111" stroke-width="0.321">λ</text>
<text transform="translate(202,64.22) rotate(-90) scale(1.040,0.902)" style="font-family:'DejaVu Serif','Liberation Serif',serif" font-size="8" stroke="#111" stroke-width="0.309">2</text>
<text transform="translate(199.6,293.38) rotate(-90) scale(0.954,0.960)" style="font-family:'DejaVu Serif','Liberation Serif',serif" font-size="11.5" stroke="#111" stroke-width="0.314">λ</text>
<text transform="translate(202,285.18) rotate(-90) scale(0.851,0.851)" style="font-family:'DejaVu Serif','Liberation Serif',serif" font-size="8" stroke="#111" stroke-width="0.352">1</text>
<text transform="translate(200.04,279) rotate(-90) scale(0.509,0.509)" style="font-family:'DejaVu Serif','Liberation Serif',serif" font-size="11" stroke="#111" stroke-width="0.589">,</text>
<text transform="translate(199.6,267.95) rotate(-90) scale(0.908,0.960)" style="font-family:'DejaVu Serif','Liberation Serif',serif" font-size="11.5" stroke="#111" stroke-width="0.321">λ</text>
<text transform="translate(202,260.52) rotate(-90) scale(1.040,0.902)" style="font-family:'DejaVu Serif','Liberation Serif',serif" font-size="8" stroke="#111" stroke-width="0.309">2</text>
<text transform="translate(384.6,88.47) rotate(-90) scale(0.908,0.950)" style="font-family:'DejaVu Serif','Liberation Serif',serif" font-size="11" stroke="#111" stroke-width="0.323">E</text>
<text transform="translate(386.49,80.51) rotate(-90) scale(0.564,0.895)" style="font-family:'DejaVu Serif','Liberation Serif',serif" font-size="7" stroke="#111" stroke-width="0.480">N</text>
<text transform="translate(384.6,287.57) rotate(-90) scale(0.908,0.950)" style="font-family:'DejaVu Serif','Liberation Serif',serif" font-size="11" stroke="#111" stroke-width="0.323">E</text>
<text transform="translate(386.49,279.61) rotate(-90) scale(0.564,0.895)" style="font-family:'DejaVu Serif','Liberation Serif',serif" font-size="7" stroke="#111" stroke-width="0.480">N</text>
</svg>
</body></html>
